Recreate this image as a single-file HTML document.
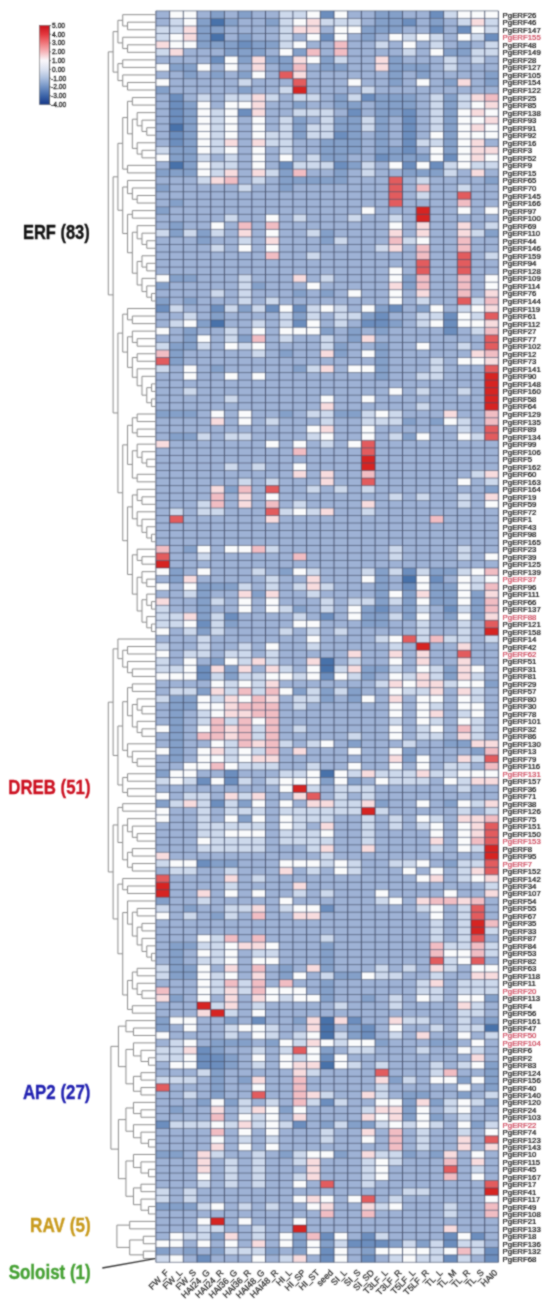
<!DOCTYPE html>
<html><head><meta charset="utf-8"><title>Heatmap</title>
<style>html,body{margin:0;padding:0;background:#fff;width:550px;height:1304px;overflow:hidden}svg{display:block}</style>
</head><body>
<svg width="550" height="1304" viewBox="0 0 550 1304"><defs><filter id="bl" x="0" y="0" width="100%" height="100%" color-interpolation-filters="sRGB"><feConvolveMatrix order="3" kernelMatrix="1 2 1 2 8 2 1 2 1" divisor="20" edgeMode="duplicate" preserveAlpha="true"/></filter></defs><rect width="100%" height="100%" fill="#fff"/><g filter="url(#bl)"><rect width="100%" height="100%" fill="#fff"/><path fill="#4872aa" d="M210.7 18.43H224.4V25.97H210.7zM210.7 33.5H224.4V41.04H210.7zM169.6 123.92H183.3V131.46H169.6zM169.6 161.6H183.3V169.13H169.6zM210.7 319.83H224.4V327.37H210.7zM402.5 575.41H416.2V582.89H402.5zM320.3 657.73H334V665.22H320.3zM320.3 665.22H334V672.7H320.3zM320.3 769.99H334V777.48H320.3zM320.3 1016.87H334V1024.31H320.3zM320.3 1024.31H334V1031.75H320.3zM484.7 1024.31H498.4V1031.75H484.7zM320.3 1031.75H334V1039.19H320.3zM320.3 1061.5H334V1068.93H320.3z"/><path fill="#6c8ebe" d="M320.3 10.9H334V18.43H320.3zM429.9 10.9H443.6V18.43H429.9zM402.5 18.43H416.2V25.97H402.5zM429.9 25.97H443.6V33.5H429.9zM457.3 25.97H471V33.5H457.3zM320.3 33.5H334V41.04H320.3zM484.7 33.5H498.4V41.04H484.7zM238.1 41.04H251.8V48.57H238.1zM210.7 56.11H224.4V63.64H210.7zM169.6 93.78H183.3V101.32H169.6zM361.4 93.78H375.1V101.32H361.4zM169.6 101.32H183.3V108.85H169.6zM169.6 108.85H183.3V116.39H169.6zM238.1 108.85H251.8V116.39H238.1zM347.7 108.85H361.4V116.39H347.7zM402.5 108.85H416.2V116.39H402.5zM169.6 116.39H183.3V123.92H169.6zM402.5 116.39H416.2V123.92H402.5zM402.5 123.92H416.2V131.46H402.5zM169.6 131.46H183.3V138.99H169.6zM334 131.46H347.7V138.99H334zM402.5 131.46H416.2V138.99H402.5zM169.6 138.99H183.3V146.53H169.6zM402.5 138.99H416.2V146.53H402.5zM402.5 146.53H416.2V154.06H402.5zM375.1 154.06H388.8V161.6H375.1zM443.6 154.06H457.3V161.6H443.6zM279.2 161.6H292.9V169.13H279.2zM334 161.6H347.7V169.13H334zM402.5 161.6H416.2V169.13H402.5zM429.9 161.6H443.6V169.13H429.9zM155.9 304.76H169.6V312.3H155.9zM210.7 304.76H224.4V312.3H210.7zM265.5 304.76H279.2V312.3H265.5zM292.9 304.76H306.6V312.3H292.9zM388.8 304.76H402.5V312.3H388.8zM375.1 312.3H388.8V319.83H375.1zM443.6 312.3H457.3V319.83H443.6zM292.9 319.83H306.6V327.37H292.9zM361.4 319.83H388.8V327.37H361.4zM443.6 319.83H457.3V327.37H443.6zM443.6 327.37H457.3V334.9H443.6zM402.5 567.92H416.2V575.41H402.5zM429.9 575.41H443.6V582.89H429.9zM402.5 582.89H416.2V590.38H402.5zM375.1 605.34H388.8V612.83H375.1zM443.6 605.34H457.3V612.83H443.6zM224.4 612.83H238.1V620.31H224.4zM320.3 612.83H334V620.31H320.3zM197 620.31H210.7V627.8H197zM197 665.22H210.7V672.7H197zM197 672.7H210.7V680.19H197zM320.3 672.7H334V680.19H320.3zM224.4 769.99H238.1V777.48H224.4zM197 777.48H210.7V784.96H197zM224.4 777.48H238.1V784.96H224.4zM210.7 799.93H224.4V807.41H210.7zM197 859.8H210.7V867.29H197zM320.3 904.71H334V912.19H320.3zM251.8 1016.87H265.5V1024.31H251.8zM347.7 1016.87H361.4V1024.31H347.7zM361.4 1024.31H375.1V1031.75H361.4zM361.4 1031.75H375.1V1039.19H361.4zM197 1046.62H210.7V1054.06H197zM197 1054.06H224.4V1061.5H197zM320.3 1054.06H334V1061.5H320.3zM197 1061.5H224.4V1068.93H197zM320.3 1098.68H334V1106.12H320.3zM155.9 1120.99H169.6V1128.43H155.9zM292.9 1120.99H306.6V1128.43H292.9zM320.3 1232.55H334V1239.99H320.3zM361.4 1232.55H375.1V1239.99H361.4zM443.6 1232.55H457.3V1239.99H443.6zM471 1232.55H484.7V1239.99H471zM347.7 1239.99H388.8V1247.43H347.7zM443.6 1239.99H457.3V1247.43H443.6zM320.3 1247.43H334V1254.86H320.3zM484.7 1247.43H498.4V1254.86H484.7zM197 1254.86H210.7V1262.3H197zM320.3 1254.86H334V1262.3H320.3zM361.4 1254.86H375.1V1262.3H361.4zM443.6 1254.86H457.3V1262.3H443.6zM484.7 1254.86H498.4V1262.3H484.7z"/><path fill="#84a0c9" d="M210.7 10.9H224.4V18.43H210.7zM238.1 10.9H251.8V18.43H238.1zM375.1 10.9H402.5V18.43H375.1zM197 18.43H210.7V25.97H197zM224.4 18.43H238.1V25.97H224.4zM265.5 18.43H279.2V25.97H265.5zM375.1 18.43H402.5V25.97H375.1zM429.9 18.43H443.6V25.97H429.9zM197 25.97H224.4V33.5H197zM361.4 25.97H402.5V33.5H361.4zM197 33.5H210.7V41.04H197zM238.1 33.5H251.8V41.04H238.1zM361.4 33.5H375.1V41.04H361.4zM197 41.04H238.1V48.57H197zM251.8 41.04H279.2V48.57H251.8zM457.3 41.04H471V48.57H457.3zM224.4 48.57H265.5V56.11H224.4zM292.9 48.57H306.6V56.11H292.9zM443.6 48.57H471V56.11H443.6zM238.1 56.11H251.8V63.64H238.1zM265.5 56.11H292.9V63.64H265.5zM320.3 56.11H334V63.64H320.3zM388.8 56.11H402.5V63.64H388.8zM169.6 63.64H197V71.18H169.6zM279.2 63.64H292.9V71.18H279.2zM320.3 63.64H347.7V71.18H320.3zM388.8 63.64H429.9V71.18H388.8zM183.3 71.18H197V78.71H183.3zM210.7 71.18H224.4V78.71H210.7zM238.1 71.18H251.8V78.71H238.1zM388.8 71.18H402.5V78.71H388.8zM416.2 71.18H429.9V78.71H416.2zM484.7 71.18H498.4V78.71H484.7zM388.8 78.71H402.5V86.25H388.8zM443.6 78.71H457.3V86.25H443.6zM484.7 78.71H498.4V86.25H484.7zM155.9 86.25H169.6V93.78H155.9zM238.1 86.25H251.8V93.78H238.1zM334 93.78H347.7V101.32H334zM375.1 93.78H416.2V101.32H375.1zM443.6 93.78H457.3V101.32H443.6zM183.3 101.32H197V108.85H183.3zM292.9 101.32H306.6V108.85H292.9zM334 101.32H361.4V108.85H334zM375.1 101.32H416.2V108.85H375.1zM443.6 101.32H457.3V108.85H443.6zM183.3 108.85H197V116.39H183.3zM375.1 108.85H402.5V116.39H375.1zM443.6 108.85H457.3V116.39H443.6zM183.3 116.39H197V123.92H183.3zM292.9 116.39H306.6V123.92H292.9zM334 116.39H361.4V123.92H334zM375.1 116.39H388.8V123.92H375.1zM443.6 116.39H457.3V123.92H443.6zM183.3 123.92H197V131.46H183.3zM292.9 123.92H306.6V131.46H292.9zM334 123.92H361.4V131.46H334zM375.1 123.92H388.8V131.46H375.1zM443.6 123.92H457.3V131.46H443.6zM183.3 131.46H197V138.99H183.3zM292.9 131.46H306.6V138.99H292.9zM347.7 131.46H361.4V138.99H347.7zM375.1 131.46H388.8V138.99H375.1zM443.6 131.46H457.3V138.99H443.6zM183.3 138.99H197V146.53H183.3zM320.3 138.99H361.4V146.53H320.3zM375.1 138.99H388.8V146.53H375.1zM443.6 138.99H457.3V146.53H443.6zM169.6 146.53H197V154.06H169.6zM320.3 146.53H361.4V154.06H320.3zM375.1 146.53H402.5V154.06H375.1zM443.6 146.53H457.3V154.06H443.6zM169.6 154.06H197V161.6H169.6zM320.3 154.06H347.7V161.6H320.3zM388.8 154.06H429.9V161.6H388.8zM183.3 161.6H197V169.13H183.3zM347.7 161.6H361.4V169.13H347.7zM155.9 169.13H197V176.67H155.9zM279.2 169.13H292.9V176.67H279.2zM334 169.13H347.7V176.67H334zM402.5 169.13H443.6V176.67H402.5zM279.2 176.67H347.7V184.2H279.2zM484.7 176.67H498.4V184.2H484.7zM155.9 184.2H169.6V191.74H155.9zM279.2 184.2H292.9V191.74H279.2zM169.6 199.27H183.3V206.81H169.6zM155.9 206.81H169.6V214.34H155.9zM169.6 221.88H183.3V229.41H169.6zM169.6 229.41H183.3V236.95H169.6zM197 229.41H210.7V236.95H197zM320.3 229.41H334V236.95H320.3zM484.7 229.41H498.4V236.95H484.7zM197 236.95H210.7V244.48H197zM320.3 236.95H334V244.48H320.3zM169.6 274.62H197V282.16H169.6zM402.5 274.62H416.2V282.16H402.5zM155.9 282.16H169.6V289.69H155.9zM251.8 282.16H265.5V289.69H251.8zM402.5 282.16H416.2V289.69H402.5zM292.9 289.69H306.6V297.23H292.9zM320.3 289.69H334V297.23H320.3zM155.9 297.23H169.6V304.76H155.9zM183.3 297.23H197V304.76H183.3zM238.1 304.76H251.8V312.3H238.1zM375.1 304.76H388.8V312.3H375.1zM416.2 304.76H429.9V312.3H416.2zM210.7 312.3H224.4V319.83H210.7zM292.9 312.3H306.6V319.83H292.9zM361.4 312.3H375.1V319.83H361.4zM197 319.83H210.7V327.37H197zM388.8 319.83H402.5V327.37H388.8zM183.3 327.37H197V334.9H183.3zM320.3 327.37H334V334.9H320.3zM347.7 327.37H361.4V334.9H347.7zM375.1 327.37H388.8V334.9H375.1zM183.3 334.9H197V342.44H183.3zM238.1 334.9H251.8V342.44H238.1zM347.7 334.9H361.4V342.44H347.7zM169.6 342.44H197V349.97H169.6zM334 342.44H347.7V349.97H334zM375.1 342.44H388.8V349.97H375.1zM169.6 349.97H183.3V357.51H169.6zM279.2 349.97H292.9V357.51H279.2zM334 349.97H347.7V357.51H334zM375.1 349.97H388.8V357.51H375.1zM169.6 357.51H183.3V365.04H169.6zM375.1 357.51H388.8V365.04H375.1zM210.7 365.04H224.4V372.58H210.7zM292.9 365.04H306.6V372.58H292.9zM375.1 365.04H388.8V372.58H375.1zM375.1 372.58H388.8V380.11H375.1zM155.9 410.25H197V417.79H155.9zM279.2 410.25H292.9V417.79H279.2zM334 410.25H361.4V417.79H334zM402.5 417.79H416.2V425.32H402.5zM429.9 417.79H443.6V425.32H429.9zM169.6 432.86H197V440.39H169.6zM402.5 432.86H416.2V440.39H402.5zM224.4 485.6H238.1V493.08H224.4zM484.7 485.6H498.4V493.08H484.7zM183.3 545.47H197V552.96H183.3zM169.6 567.92H183.3V575.41H169.6zM279.2 567.92H292.9V575.41H279.2zM375.1 567.92H388.8V575.41H375.1zM429.9 567.92H457.3V575.41H429.9zM169.6 575.41H183.3V582.89H169.6zM375.1 575.41H388.8V582.89H375.1zM197 582.89H238.1V590.38H197zM375.1 582.89H388.8V590.38H375.1zM429.9 582.89H457.3V590.38H429.9zM197 590.38H210.7V597.86H197zM251.8 590.38H265.5V597.86H251.8zM375.1 590.38H388.8V597.86H375.1zM402.5 590.38H416.2V597.86H402.5zM429.9 590.38H457.3V597.86H429.9zM471 590.38H484.7V597.86H471zM197 597.86H210.7V605.34H197zM375.1 597.86H388.8V605.34H375.1zM402.5 597.86H416.2V605.34H402.5zM429.9 597.86H457.3V605.34H429.9zM471 597.86H484.7V605.34H471zM197 605.34H210.7V612.83H197zM292.9 605.34H306.6V612.83H292.9zM361.4 605.34H375.1V612.83H361.4zM402.5 605.34H416.2V612.83H402.5zM471 605.34H484.7V612.83H471zM197 612.83H210.7V620.31H197zM361.4 612.83H388.8V620.31H361.4zM402.5 612.83H416.2V620.31H402.5zM443.6 612.83H457.3V620.31H443.6zM471 612.83H484.7V620.31H471zM224.4 620.31H238.1V627.8H224.4zM361.4 620.31H388.8V627.8H361.4zM197 627.8H210.7V635.28H197zM210.7 657.73H224.4V665.22H210.7zM224.4 665.22H238.1V672.7H224.4zM361.4 665.22H388.8V672.7H361.4zM443.6 665.22H457.3V672.7H443.6zM224.4 672.7H238.1V680.19H224.4zM361.4 672.7H375.1V680.19H361.4zM443.6 672.7H457.3V680.19H443.6zM484.7 680.19H498.4V687.67H484.7zM197 687.67H210.7V695.15H197zM292.9 687.67H306.6V695.15H292.9zM320.3 687.67H334V695.15H320.3zM347.7 687.67H361.4V695.15H347.7zM169.6 695.15H197V702.64H169.6zM320.3 695.15H334V702.64H320.3zM347.7 695.15H361.4V702.64H347.7zM169.6 702.64H197V710.12H169.6zM169.6 710.12H183.3V717.61H169.6zM169.6 717.61H183.3V725.09H169.6zM169.6 725.09H183.3V732.57H169.6zM169.6 732.57H183.3V740.06H169.6zM169.6 740.06H183.3V747.54H169.6zM347.7 740.06H361.4V747.54H347.7zM443.6 740.06H471V747.54H443.6zM169.6 747.54H183.3V755.03H169.6zM402.5 747.54H416.2V755.03H402.5zM471 747.54H484.7V755.03H471zM169.6 755.03H183.3V762.51H169.6zM402.5 755.03H416.2V762.51H402.5zM155.9 769.99H169.6V777.48H155.9zM320.3 777.48H334V784.96H320.3zM347.7 777.48H361.4V784.96H347.7zM155.9 799.93H169.6V807.41H155.9zM238.1 799.93H251.8V807.41H238.1zM375.1 799.93H388.8V807.41H375.1zM443.6 799.93H457.3V807.41H443.6zM238.1 814.9H251.8V822.38H238.1zM210.7 859.8H238.1V867.29H210.7zM443.6 859.8H457.3V867.29H443.6zM155.9 897.22H169.6V904.71H155.9zM183.3 904.71H197V912.19H183.3zM210.7 912.19H224.4V919.68H210.7zM169.6 942.13H197V949.61H169.6zM320.3 942.13H334V949.61H320.3zM169.6 949.61H183.3V957.1H169.6zM320.3 949.61H334V957.1H320.3zM169.6 957.1H183.3V964.58H169.6zM320.3 957.1H334V964.58H320.3zM169.6 964.58H197V972.06H169.6zM279.2 964.58H292.9V972.06H279.2zM320.3 964.58H334V972.06H320.3zM169.6 972.06H197V979.55H169.6zM279.2 972.06H292.9V979.55H279.2zM334 972.06H361.4V979.55H334zM320.3 979.55H334V987.03H320.3zM320.3 987.03H334V994.52H320.3zM169.6 994.52H183.3V1002H169.6zM320.3 994.52H334V1002H320.3zM361.4 994.52H375.1V1002H361.4zM484.7 994.52H498.4V1002H484.7zM155.9 1016.87H169.6V1024.31H155.9zM224.4 1016.87H238.1V1024.31H224.4zM292.9 1016.87H306.6V1024.31H292.9zM484.7 1016.87H498.4V1024.31H484.7zM155.9 1024.31H169.6V1031.75H155.9zM347.7 1024.31H361.4V1031.75H347.7zM347.7 1031.75H361.4V1039.19H347.7zM210.7 1039.19H251.8V1046.62H210.7zM265.5 1039.19H279.2V1046.62H265.5zM375.1 1039.19H388.8V1046.62H375.1zM429.9 1039.19H457.3V1046.62H429.9zM210.7 1046.62H224.4V1054.06H210.7zM320.3 1046.62H334V1054.06H320.3zM224.4 1054.06H238.1V1061.5H224.4zM224.4 1061.5H238.1V1068.93H224.4zM484.7 1061.5H498.4V1068.93H484.7zM210.7 1068.93H224.4V1076.37H210.7zM484.7 1068.93H498.4V1076.37H484.7zM210.7 1076.37H224.4V1083.81H210.7zM238.1 1076.37H251.8V1083.81H238.1zM388.8 1076.37H402.5V1083.81H388.8zM457.3 1076.37H471V1083.81H457.3zM484.7 1076.37H498.4V1083.81H484.7zM210.7 1083.81H224.4V1091.25H210.7zM484.7 1083.81H498.4V1091.25H484.7zM210.7 1091.25H224.4V1098.68H210.7zM402.5 1091.25H429.9V1098.68H402.5zM457.3 1091.25H471V1098.68H457.3zM197 1098.68H210.7V1106.12H197zM224.4 1098.68H238.1V1106.12H224.4zM402.5 1098.68H416.2V1106.12H402.5zM429.9 1098.68H443.6V1106.12H429.9zM484.7 1098.68H498.4V1106.12H484.7zM169.6 1106.12H183.3V1113.56H169.6zM279.2 1106.12H292.9V1113.56H279.2zM402.5 1106.12H416.2V1113.56H402.5zM402.5 1113.56H416.2V1120.99H402.5zM429.9 1113.56H443.6V1120.99H429.9zM320.3 1120.99H334V1128.43H320.3zM347.7 1120.99H375.1V1128.43H347.7zM471 1120.99H484.7V1128.43H471zM155.9 1150.74H183.3V1158.18H155.9zM279.2 1150.74H292.9V1158.18H279.2zM334 1150.74H347.7V1158.18H334zM402.5 1150.74H416.2V1158.18H402.5zM429.9 1150.74H443.6V1158.18H429.9zM155.9 1202.8H197V1210.24H155.9zM210.7 1232.55H224.4V1239.99H210.7zM292.9 1232.55H306.6V1239.99H292.9zM292.9 1239.99H306.6V1247.43H292.9zM320.3 1239.99H334V1247.43H320.3zM388.8 1239.99H402.5V1247.43H388.8zM416.2 1239.99H429.9V1247.43H416.2zM155.9 1247.43H169.6V1254.86H155.9zM183.3 1247.43H197V1254.86H183.3zM210.7 1247.43H224.4V1254.86H210.7zM265.5 1247.43H279.2V1254.86H265.5zM292.9 1247.43H306.6V1254.86H292.9zM361.4 1247.43H375.1V1254.86H361.4z"/><path fill="#9eb2d5" d="M155.9 10.9H169.6V18.43H155.9zM197 10.9H210.7V18.43H197zM224.4 10.9H238.1V18.43H224.4zM251.8 10.9H279.2V18.43H251.8zM347.7 10.9H375.1V18.43H347.7zM402.5 10.9H429.9V18.43H402.5zM155.9 18.43H169.6V25.97H155.9zM238.1 18.43H265.5V25.97H238.1zM361.4 18.43H375.1V25.97H361.4zM416.2 18.43H429.9V25.97H416.2zM443.6 18.43H457.3V25.97H443.6zM224.4 25.97H279.2V33.5H224.4zM320.3 25.97H334V33.5H320.3zM402.5 25.97H429.9V33.5H402.5zM443.6 25.97H457.3V33.5H443.6zM224.4 33.5H238.1V41.04H224.4zM251.8 33.5H279.2V41.04H251.8zM292.9 33.5H306.6V41.04H292.9zM347.7 33.5H361.4V41.04H347.7zM375.1 33.5H388.8V41.04H375.1zM443.6 33.5H457.3V41.04H443.6zM306.6 41.04H334V48.57H306.6zM347.7 41.04H375.1V48.57H347.7zM388.8 41.04H402.5V48.57H388.8zM416.2 41.04H429.9V48.57H416.2zM443.6 41.04H457.3V48.57H443.6zM471 41.04H484.7V48.57H471zM183.3 48.57H224.4V56.11H183.3zM265.5 48.57H279.2V56.11H265.5zM320.3 48.57H334V56.11H320.3zM347.7 48.57H402.5V56.11H347.7zM416.2 48.57H429.9V56.11H416.2zM155.9 56.11H210.7V63.64H155.9zM347.7 56.11H375.1V63.64H347.7zM402.5 56.11H443.6V63.64H402.5zM457.3 56.11H471V63.64H457.3zM484.7 56.11H498.4V63.64H484.7zM210.7 63.64H224.4V71.18H210.7zM238.1 63.64H251.8V71.18H238.1zM265.5 63.64H279.2V71.18H265.5zM306.6 63.64H320.3V71.18H306.6zM347.7 63.64H375.1V71.18H347.7zM429.9 63.64H443.6V71.18H429.9zM457.3 63.64H498.4V71.18H457.3zM155.9 71.18H183.3V78.71H155.9zM197 71.18H210.7V78.71H197zM224.4 71.18H238.1V78.71H224.4zM265.5 71.18H279.2V78.71H265.5zM306.6 71.18H388.8V78.71H306.6zM402.5 71.18H416.2V78.71H402.5zM429.9 71.18H484.7V78.71H429.9zM169.6 78.71H238.1V86.25H169.6zM251.8 78.71H292.9V86.25H251.8zM306.6 78.71H347.7V86.25H306.6zM361.4 78.71H388.8V86.25H361.4zM402.5 78.71H416.2V86.25H402.5zM429.9 78.71H443.6V86.25H429.9zM471 78.71H484.7V86.25H471zM169.6 86.25H238.1V93.78H169.6zM251.8 86.25H279.2V93.78H251.8zM306.6 86.25H361.4V93.78H306.6zM375.1 86.25H498.4V93.78H375.1zM155.9 93.78H169.6V101.32H155.9zM183.3 93.78H197V101.32H183.3zM210.7 93.78H224.4V101.32H210.7zM279.2 93.78H292.9V101.32H279.2zM320.3 93.78H334V101.32H320.3zM416.2 93.78H429.9V101.32H416.2zM155.9 101.32H169.6V108.85H155.9zM210.7 101.32H224.4V108.85H210.7zM265.5 101.32H292.9V108.85H265.5zM306.6 101.32H334V108.85H306.6zM361.4 101.32H375.1V108.85H361.4zM416.2 101.32H429.9V108.85H416.2zM155.9 108.85H169.6V116.39H155.9zM265.5 108.85H292.9V116.39H265.5zM334 108.85H347.7V116.39H334zM361.4 108.85H375.1V116.39H361.4zM416.2 108.85H429.9V116.39H416.2zM155.9 116.39H169.6V123.92H155.9zM238.1 116.39H251.8V123.92H238.1zM265.5 116.39H279.2V123.92H265.5zM306.6 116.39H320.3V123.92H306.6zM388.8 116.39H402.5V123.92H388.8zM416.2 116.39H429.9V123.92H416.2zM155.9 123.92H169.6V131.46H155.9zM238.1 123.92H251.8V131.46H238.1zM265.5 123.92H279.2V131.46H265.5zM388.8 123.92H402.5V131.46H388.8zM416.2 123.92H429.9V131.46H416.2zM155.9 131.46H169.6V138.99H155.9zM238.1 131.46H251.8V138.99H238.1zM361.4 131.46H375.1V138.99H361.4zM388.8 131.46H402.5V138.99H388.8zM416.2 131.46H429.9V138.99H416.2zM155.9 138.99H169.6V146.53H155.9zM238.1 138.99H251.8V146.53H238.1zM292.9 138.99H320.3V146.53H292.9zM361.4 138.99H375.1V146.53H361.4zM388.8 138.99H402.5V146.53H388.8zM484.7 138.99H498.4V146.53H484.7zM238.1 146.53H251.8V154.06H238.1zM265.5 146.53H279.2V154.06H265.5zM292.9 146.53H320.3V154.06H292.9zM361.4 146.53H375.1V154.06H361.4zM416.2 146.53H429.9V154.06H416.2zM210.7 154.06H224.4V161.6H210.7zM238.1 154.06H251.8V161.6H238.1zM265.5 154.06H279.2V161.6H265.5zM292.9 154.06H306.6V161.6H292.9zM347.7 154.06H375.1V161.6H347.7zM155.9 161.6H169.6V169.13H155.9zM238.1 161.6H251.8V169.13H238.1zM265.5 161.6H279.2V169.13H265.5zM375.1 161.6H388.8V169.13H375.1zM238.1 169.13H251.8V176.67H238.1zM306.6 169.13H334V176.67H306.6zM347.7 169.13H361.4V176.67H347.7zM375.1 169.13H402.5V176.67H375.1zM457.3 169.13H471V176.67H457.3zM484.7 169.13H498.4V176.67H484.7zM155.9 176.67H197V184.2H155.9zM238.1 176.67H251.8V184.2H238.1zM265.5 176.67H279.2V184.2H265.5zM347.7 176.67H388.8V184.2H347.7zM402.5 176.67H416.2V184.2H402.5zM429.9 176.67H484.7V184.2H429.9zM169.6 184.2H238.1V191.74H169.6zM251.8 184.2H279.2V191.74H251.8zM292.9 184.2H388.8V191.74H292.9zM402.5 184.2H416.2V191.74H402.5zM429.9 184.2H457.3V191.74H429.9zM471 184.2H498.4V191.74H471zM155.9 191.74H388.8V199.27H155.9zM402.5 191.74H416.2V199.27H402.5zM429.9 191.74H457.3V199.27H429.9zM471 191.74H498.4V199.27H471zM155.9 199.27H169.6V206.81H155.9zM183.3 199.27H388.8V206.81H183.3zM402.5 199.27H457.3V206.81H402.5zM471 199.27H498.4V206.81H471zM169.6 206.81H361.4V214.34H169.6zM375.1 206.81H416.2V214.34H375.1zM429.9 206.81H457.3V214.34H429.9zM471 206.81H484.7V214.34H471zM155.9 214.34H224.4V221.88H155.9zM238.1 214.34H265.5V221.88H238.1zM279.2 214.34H292.9V221.88H279.2zM306.6 214.34H347.7V221.88H306.6zM361.4 214.34H388.8V221.88H361.4zM402.5 214.34H416.2V221.88H402.5zM429.9 214.34H498.4V221.88H429.9zM155.9 221.88H169.6V229.41H155.9zM183.3 221.88H210.7V229.41H183.3zM224.4 221.88H238.1V229.41H224.4zM251.8 221.88H265.5V229.41H251.8zM279.2 221.88H388.8V229.41H279.2zM402.5 221.88H416.2V229.41H402.5zM429.9 221.88H457.3V229.41H429.9zM471 221.88H484.7V229.41H471zM224.4 229.41H238.1V236.95H224.4zM251.8 229.41H265.5V236.95H251.8zM279.2 229.41H306.6V236.95H279.2zM334 229.41H388.8V236.95H334zM402.5 229.41H416.2V236.95H402.5zM429.9 229.41H457.3V236.95H429.9zM155.9 236.95H197V244.48H155.9zM210.7 236.95H238.1V244.48H210.7zM251.8 236.95H265.5V244.48H251.8zM279.2 236.95H320.3V244.48H279.2zM347.7 236.95H388.8V244.48H347.7zM429.9 236.95H457.3V244.48H429.9zM471 236.95H498.4V244.48H471zM155.9 244.48H210.7V252.02H155.9zM224.4 244.48H238.1V252.02H224.4zM251.8 244.48H265.5V252.02H251.8zM279.2 244.48H375.1V252.02H279.2zM402.5 244.48H416.2V252.02H402.5zM429.9 244.48H457.3V252.02H429.9zM471 244.48H498.4V252.02H471zM155.9 252.02H265.5V259.55H155.9zM279.2 252.02H306.6V259.55H279.2zM320.3 252.02H416.2V259.55H320.3zM429.9 252.02H457.3V259.55H429.9zM471 252.02H484.7V259.55H471zM155.9 259.55H416.2V267.09H155.9zM429.9 259.55H457.3V267.09H429.9zM471 259.55H498.4V267.09H471zM155.9 267.09H388.8V274.62H155.9zM402.5 267.09H416.2V274.62H402.5zM429.9 267.09H457.3V274.62H429.9zM471 267.09H498.4V274.62H471zM197 274.62H238.1V282.16H197zM251.8 274.62H292.9V282.16H251.8zM306.6 274.62H320.3V282.16H306.6zM334 274.62H388.8V282.16H334zM429.9 274.62H457.3V282.16H429.9zM471 274.62H484.7V282.16H471zM169.6 282.16H238.1V289.69H169.6zM265.5 282.16H306.6V289.69H265.5zM320.3 282.16H388.8V289.69H320.3zM429.9 282.16H457.3V289.69H429.9zM471 282.16H484.7V289.69H471zM155.9 289.69H210.7V297.23H155.9zM224.4 289.69H238.1V297.23H224.4zM251.8 289.69H292.9V297.23H251.8zM306.6 289.69H320.3V297.23H306.6zM334 289.69H347.7V297.23H334zM361.4 289.69H388.8V297.23H361.4zM402.5 289.69H416.2V297.23H402.5zM429.9 289.69H457.3V297.23H429.9zM471 289.69H484.7V297.23H471zM169.6 297.23H183.3V304.76H169.6zM197 297.23H238.1V304.76H197zM251.8 297.23H265.5V304.76H251.8zM279.2 297.23H388.8V304.76H279.2zM402.5 297.23H416.2V304.76H402.5zM429.9 297.23H457.3V304.76H429.9zM183.3 304.76H210.7V312.3H183.3zM347.7 304.76H361.4V312.3H347.7zM402.5 304.76H416.2V312.3H402.5zM443.6 304.76H457.3V312.3H443.6zM155.9 312.3H183.3V319.83H155.9zM197 312.3H210.7V319.83H197zM224.4 312.3H279.2V319.83H224.4zM320.3 312.3H334V319.83H320.3zM388.8 312.3H416.2V319.83H388.8zM155.9 319.83H169.6V327.37H155.9zM224.4 319.83H251.8V327.37H224.4zM265.5 319.83H279.2V327.37H265.5zM320.3 319.83H334V327.37H320.3zM347.7 319.83H361.4V327.37H347.7zM402.5 319.83H416.2V327.37H402.5zM169.6 327.37H183.3V334.9H169.6zM197 327.37H224.4V334.9H197zM238.1 327.37H251.8V334.9H238.1zM265.5 327.37H279.2V334.9H265.5zM334 327.37H347.7V334.9H334zM361.4 327.37H375.1V334.9H361.4zM388.8 327.37H443.6V334.9H388.8zM457.3 327.37H471V334.9H457.3zM155.9 334.9H183.3V342.44H155.9zM210.7 334.9H224.4V342.44H210.7zM265.5 334.9H279.2V342.44H265.5zM292.9 334.9H320.3V342.44H292.9zM334 334.9H347.7V342.44H334zM375.1 334.9H484.7V342.44H375.1zM210.7 342.44H224.4V349.97H210.7zM265.5 342.44H320.3V349.97H265.5zM347.7 342.44H375.1V349.97H347.7zM388.8 342.44H416.2V349.97H388.8zM429.9 342.44H457.3V349.97H429.9zM471 342.44H484.7V349.97H471zM183.3 349.97H251.8V357.51H183.3zM265.5 349.97H279.2V357.51H265.5zM292.9 349.97H320.3V357.51H292.9zM347.7 349.97H361.4V357.51H347.7zM388.8 349.97H471V357.51H388.8zM183.3 357.51H375.1V365.04H183.3zM388.8 357.51H429.9V365.04H388.8zM443.6 357.51H457.3V365.04H443.6zM169.6 365.04H183.3V372.58H169.6zM197 365.04H210.7V372.58H197zM224.4 365.04H292.9V372.58H224.4zM334 365.04H347.7V372.58H334zM388.8 365.04H429.9V372.58H388.8zM443.6 365.04H484.7V372.58H443.6zM155.9 372.58H183.3V380.11H155.9zM197 372.58H224.4V380.11H197zM238.1 372.58H251.8V380.11H238.1zM265.5 372.58H375.1V380.11H265.5zM388.8 372.58H416.2V380.11H388.8zM443.6 372.58H484.7V380.11H443.6zM155.9 380.11H484.7V387.65H155.9zM155.9 387.65H183.3V395.18H155.9zM197 387.65H388.8V395.18H197zM402.5 387.65H416.2V395.18H402.5zM429.9 387.65H457.3V395.18H429.9zM471 387.65H484.7V395.18H471zM155.9 395.18H224.4V402.72H155.9zM238.1 395.18H320.3V402.72H238.1zM334 395.18H361.4V402.72H334zM375.1 395.18H484.7V402.72H375.1zM155.9 402.72H320.3V410.25H155.9zM334 402.72H416.2V410.25H334zM429.9 402.72H484.7V410.25H429.9zM197 410.25H210.7V417.79H197zM224.4 410.25H238.1V417.79H224.4zM251.8 410.25H279.2V417.79H251.8zM292.9 410.25H306.6V417.79H292.9zM402.5 410.25H443.6V417.79H402.5zM457.3 410.25H484.7V417.79H457.3zM155.9 417.79H210.7V425.32H155.9zM224.4 417.79H238.1V425.32H224.4zM251.8 417.79H265.5V425.32H251.8zM279.2 417.79H320.3V425.32H279.2zM334 417.79H361.4V425.32H334zM416.2 417.79H429.9V425.32H416.2zM471 417.79H484.7V425.32H471zM155.9 425.32H306.6V432.86H155.9zM334 425.32H361.4V432.86H334zM375.1 425.32H457.3V432.86H375.1zM471 425.32H484.7V432.86H471zM155.9 432.86H169.6V440.39H155.9zM210.7 432.86H224.4V440.39H210.7zM251.8 432.86H306.6V440.39H251.8zM334 432.86H361.4V440.39H334zM375.1 432.86H388.8V440.39H375.1zM429.9 432.86H457.3V440.39H429.9zM169.6 440.39H265.5V447.93H169.6zM279.2 440.39H292.9V447.93H279.2zM306.6 440.39H320.3V447.93H306.6zM334 440.39H347.7V447.93H334zM375.1 440.39H498.4V447.93H375.1zM155.9 447.93H292.9V455.46H155.9zM306.6 447.93H361.4V455.46H306.6zM375.1 447.93H498.4V455.46H375.1zM155.9 455.46H361.4V463H155.9zM375.1 455.46H498.4V463H375.1zM155.9 463H224.4V470.53H155.9zM238.1 463H251.8V470.53H238.1zM265.5 463H292.9V470.53H265.5zM306.6 463H361.4V470.53H306.6zM375.1 463H498.4V470.53H375.1zM155.9 470.53H292.9V478.07H155.9zM306.6 470.53H320.3V478.07H306.6zM334 470.53H361.4V478.07H334zM375.1 470.53H471V478.07H375.1zM155.9 478.07H238.1V485.6H155.9zM251.8 478.07H265.5V485.6H251.8zM279.2 478.07H320.3V485.6H279.2zM334 478.07H361.4V485.6H334zM375.1 478.07H457.3V485.6H375.1zM471 478.07H484.7V485.6H471zM155.9 485.6H210.7V493.08H155.9zM251.8 485.6H265.5V493.08H251.8zM279.2 485.6H306.6V493.08H279.2zM320.3 485.6H334V493.08H320.3zM347.7 485.6H361.4V493.08H347.7zM375.1 485.6H484.7V493.08H375.1zM155.9 493.08H210.7V500.57H155.9zM224.4 493.08H238.1V500.57H224.4zM251.8 493.08H265.5V500.57H251.8zM279.2 493.08H388.8V500.57H279.2zM402.5 493.08H416.2V500.57H402.5zM429.9 493.08H457.3V500.57H429.9zM471 493.08H484.7V500.57H471zM155.9 500.57H197V508.05H155.9zM224.4 500.57H238.1V508.05H224.4zM251.8 500.57H265.5V508.05H251.8zM279.2 500.57H292.9V508.05H279.2zM306.6 500.57H361.4V508.05H306.6zM375.1 500.57H457.3V508.05H375.1zM471 500.57H484.7V508.05H471zM155.9 508.05H169.6V515.54H155.9zM183.3 508.05H197V515.54H183.3zM224.4 508.05H265.5V515.54H224.4zM334 508.05H361.4V515.54H334zM375.1 508.05H498.4V515.54H375.1zM155.9 515.54H169.6V523.02H155.9zM183.3 515.54H265.5V523.02H183.3zM279.2 515.54H429.9V523.02H279.2zM443.6 515.54H498.4V523.02H443.6zM155.9 523.02H498.4V530.5H155.9zM155.9 530.5H498.4V537.99H155.9zM155.9 537.99H498.4V545.47H155.9zM169.6 545.47H183.3V552.96H169.6zM210.7 545.47H224.4V552.96H210.7zM279.2 545.47H388.8V552.96H279.2zM402.5 545.47H457.3V552.96H402.5zM471 545.47H498.4V552.96H471zM169.6 552.96H197V560.44H169.6zM210.7 552.96H292.9V560.44H210.7zM306.6 552.96H388.8V560.44H306.6zM402.5 552.96H457.3V560.44H402.5zM471 552.96H484.7V560.44H471zM169.6 560.44H498.4V567.92H169.6zM183.3 567.92H197V575.41H183.3zM210.7 567.92H251.8V575.41H210.7zM265.5 567.92H279.2V575.41H265.5zM320.3 567.92H361.4V575.41H320.3zM155.9 575.41H169.6V582.89H155.9zM197 575.41H265.5V582.89H197zM279.2 575.41H306.6V582.89H279.2zM320.3 575.41H361.4V582.89H320.3zM388.8 575.41H402.5V582.89H388.8zM443.6 575.41H457.3V582.89H443.6zM169.6 582.89H183.3V590.38H169.6zM251.8 582.89H265.5V590.38H251.8zM279.2 582.89H292.9V590.38H279.2zM334 582.89H375.1V590.38H334zM388.8 582.89H402.5V590.38H388.8zM155.9 590.38H183.3V597.86H155.9zM210.7 590.38H238.1V597.86H210.7zM279.2 590.38H306.6V597.86H279.2zM320.3 590.38H375.1V597.86H320.3zM169.6 597.86H197V605.34H169.6zM224.4 597.86H238.1V605.34H224.4zM251.8 597.86H265.5V605.34H251.8zM279.2 597.86H320.3V605.34H279.2zM334 597.86H347.7V605.34H334zM169.6 605.34H197V612.83H169.6zM210.7 605.34H238.1V612.83H210.7zM251.8 605.34H265.5V612.83H251.8zM306.6 605.34H320.3V612.83H306.6zM334 605.34H347.7V612.83H334zM388.8 605.34H402.5V612.83H388.8zM429.9 605.34H443.6V612.83H429.9zM238.1 612.83H292.9V620.31H238.1zM306.6 612.83H320.3V620.31H306.6zM334 612.83H347.7V620.31H334zM429.9 612.83H443.6V620.31H429.9zM238.1 620.31H292.9V627.8H238.1zM320.3 620.31H361.4V627.8H320.3zM388.8 620.31H416.2V627.8H388.8zM429.9 620.31H457.3V627.8H429.9zM471 620.31H484.7V627.8H471zM169.6 627.8H183.3V635.28H169.6zM224.4 627.8H279.2V635.28H224.4zM292.9 627.8H306.6V635.28H292.9zM320.3 627.8H334V635.28H320.3zM347.7 627.8H416.2V635.28H347.7zM429.9 627.8H457.3V635.28H429.9zM471 627.8H484.7V635.28H471zM155.9 635.28H197V642.77H155.9zM210.7 635.28H306.6V642.77H210.7zM320.3 635.28H375.1V642.77H320.3zM471 635.28H484.7V642.77H471zM169.6 642.77H197V650.25H169.6zM210.7 642.77H238.1V650.25H210.7zM251.8 642.77H265.5V650.25H251.8zM279.2 642.77H306.6V650.25H279.2zM320.3 642.77H388.8V650.25H320.3zM402.5 642.77H416.2V650.25H402.5zM429.9 642.77H457.3V650.25H429.9zM471 642.77H498.4V650.25H471zM169.6 650.25H183.3V657.73H169.6zM210.7 650.25H224.4V657.73H210.7zM251.8 650.25H265.5V657.73H251.8zM279.2 650.25H347.7V657.73H279.2zM361.4 650.25H388.8V657.73H361.4zM402.5 650.25H416.2V657.73H402.5zM429.9 650.25H457.3V657.73H429.9zM471 650.25H498.4V657.73H471zM169.6 657.73H183.3V665.22H169.6zM197 657.73H210.7V665.22H197zM279.2 657.73H306.6V665.22H279.2zM334 657.73H347.7V665.22H334zM361.4 657.73H388.8V665.22H361.4zM402.5 657.73H416.2V665.22H402.5zM429.9 657.73H457.3V665.22H429.9zM471 657.73H498.4V665.22H471zM251.8 665.22H265.5V672.7H251.8zM292.9 665.22H306.6V672.7H292.9zM402.5 665.22H416.2V672.7H402.5zM484.7 665.22H498.4V672.7H484.7zM375.1 672.7H388.8V680.19H375.1zM484.7 672.7H498.4V680.19H484.7zM155.9 680.19H210.7V687.67H155.9zM279.2 680.19H375.1V687.67H279.2zM155.9 687.67H169.6V695.15H155.9zM361.4 687.67H388.8V695.15H361.4zM443.6 687.67H457.3V695.15H443.6zM484.7 687.67H498.4V695.15H484.7zM279.2 695.15H292.9V702.64H279.2zM334 695.15H347.7V702.64H334zM375.1 695.15H388.8V702.64H375.1zM402.5 695.15H416.2V702.64H402.5zM443.6 695.15H457.3V702.64H443.6zM484.7 695.15H498.4V702.64H484.7zM155.9 702.64H169.6V710.12H155.9zM279.2 702.64H292.9V710.12H279.2zM306.6 702.64H388.8V710.12H306.6zM402.5 702.64H416.2V710.12H402.5zM443.6 702.64H457.3V710.12H443.6zM484.7 702.64H498.4V710.12H484.7zM155.9 710.12H169.6V717.61H155.9zM183.3 710.12H197V717.61H183.3zM279.2 710.12H388.8V717.61H279.2zM402.5 710.12H416.2V717.61H402.5zM443.6 710.12H457.3V717.61H443.6zM484.7 710.12H498.4V717.61H484.7zM155.9 717.61H169.6V725.09H155.9zM183.3 717.61H197V725.09H183.3zM279.2 717.61H388.8V725.09H279.2zM402.5 717.61H416.2V725.09H402.5zM443.6 717.61H457.3V725.09H443.6zM484.7 717.61H498.4V725.09H484.7zM183.3 725.09H197V732.57H183.3zM279.2 725.09H292.9V732.57H279.2zM306.6 725.09H388.8V732.57H306.6zM402.5 725.09H416.2V732.57H402.5zM443.6 725.09H457.3V732.57H443.6zM484.7 725.09H498.4V732.57H484.7zM155.9 732.57H169.6V740.06H155.9zM183.3 732.57H197V740.06H183.3zM279.2 732.57H347.7V740.06H279.2zM361.4 732.57H388.8V740.06H361.4zM402.5 732.57H416.2V740.06H402.5zM443.6 732.57H457.3V740.06H443.6zM484.7 732.57H498.4V740.06H484.7zM155.9 740.06H169.6V747.54H155.9zM183.3 740.06H210.7V747.54H183.3zM292.9 740.06H306.6V747.54H292.9zM334 740.06H347.7V747.54H334zM361.4 740.06H402.5V747.54H361.4zM416.2 740.06H443.6V747.54H416.2zM183.3 747.54H197V755.03H183.3zM279.2 747.54H292.9V755.03H279.2zM306.6 747.54H347.7V755.03H306.6zM361.4 747.54H388.8V755.03H361.4zM416.2 747.54H471V755.03H416.2zM155.9 755.03H169.6V762.51H155.9zM183.3 755.03H197V762.51H183.3zM279.2 755.03H388.8V762.51H279.2zM429.9 755.03H457.3V762.51H429.9zM155.9 762.51H183.3V769.99H155.9zM279.2 762.51H306.6V769.99H279.2zM320.3 762.51H347.7V769.99H320.3zM361.4 762.51H388.8V769.99H361.4zM402.5 762.51H416.2V769.99H402.5zM429.9 762.51H443.6V769.99H429.9zM471 762.51H484.7V769.99H471zM197 769.99H224.4V777.48H197zM238.1 769.99H279.2V777.48H238.1zM251.8 777.48H265.5V784.96H251.8zM361.4 777.48H375.1V784.96H361.4zM429.9 777.48H443.6V784.96H429.9zM155.9 784.96H279.2V792.45H155.9zM320.3 784.96H334V792.45H320.3zM375.1 784.96H457.3V792.45H375.1zM471 784.96H498.4V792.45H471zM169.6 792.45H183.3V799.93H169.6zM210.7 792.45H224.4V799.93H210.7zM265.5 792.45H292.9V799.93H265.5zM320.3 792.45H334V799.93H320.3zM347.7 792.45H361.4V799.93H347.7zM375.1 792.45H498.4V799.93H375.1zM265.5 799.93H279.2V807.41H265.5zM292.9 799.93H306.6V807.41H292.9zM388.8 799.93H416.2V807.41H388.8zM429.9 799.93H443.6V807.41H429.9zM169.6 807.41H197V814.9H169.6zM210.7 807.41H224.4V814.9H210.7zM265.5 807.41H279.2V814.9H265.5zM388.8 807.41H457.3V814.9H388.8zM471 807.41H484.7V814.9H471zM169.6 814.9H197V822.38H169.6zM210.7 814.9H224.4V822.38H210.7zM265.5 814.9H279.2V822.38H265.5zM334 814.9H361.4V822.38H334zM375.1 814.9H388.8V822.38H375.1zM402.5 814.9H416.2V822.38H402.5zM443.6 814.9H457.3V822.38H443.6zM155.9 822.38H197V829.87H155.9zM265.5 822.38H279.2V829.87H265.5zM306.6 822.38H320.3V829.87H306.6zM334 822.38H361.4V829.87H334zM375.1 822.38H388.8V829.87H375.1zM402.5 822.38H416.2V829.87H402.5zM443.6 822.38H457.3V829.87H443.6zM155.9 829.87H197V837.35H155.9zM265.5 829.87H279.2V837.35H265.5zM334 829.87H361.4V837.35H334zM375.1 829.87H429.9V837.35H375.1zM443.6 829.87H457.3V837.35H443.6zM155.9 837.35H197V844.83H155.9zM265.5 837.35H279.2V844.83H265.5zM334 837.35H361.4V844.83H334zM375.1 837.35H429.9V844.83H375.1zM443.6 837.35H457.3V844.83H443.6zM155.9 844.83H197V852.32H155.9zM265.5 844.83H306.6V852.32H265.5zM334 844.83H361.4V852.32H334zM375.1 844.83H429.9V852.32H375.1zM443.6 844.83H457.3V852.32H443.6zM169.6 852.32H320.3V859.8H169.6zM334 852.32H484.7V859.8H334zM238.1 859.8H279.2V867.29H238.1zM361.4 859.8H388.8V867.29H361.4zM429.9 859.8H443.6V867.29H429.9zM155.9 867.29H169.6V874.77H155.9zM197 867.29H224.4V874.77H197zM238.1 867.29H279.2V874.77H238.1zM292.9 867.29H306.6V874.77H292.9zM320.3 867.29H334V874.77H320.3zM361.4 867.29H402.5V874.77H361.4zM416.2 867.29H429.9V874.77H416.2zM443.6 867.29H457.3V874.77H443.6zM169.6 874.77H224.4V882.26H169.6zM238.1 874.77H251.8V882.26H238.1zM265.5 874.77H416.2V882.26H265.5zM443.6 874.77H457.3V882.26H443.6zM169.6 882.26H224.4V889.74H169.6zM238.1 882.26H292.9V889.74H238.1zM306.6 882.26H484.7V889.74H306.6zM169.6 889.74H197V897.22H169.6zM210.7 889.74H224.4V897.22H210.7zM238.1 889.74H251.8V897.22H238.1zM265.5 889.74H292.9V897.22H265.5zM306.6 889.74H320.3V897.22H306.6zM334 889.74H375.1V897.22H334zM388.8 889.74H443.6V897.22H388.8zM457.3 889.74H484.7V897.22H457.3zM169.6 897.22H197V904.71H169.6zM210.7 897.22H279.2V904.71H210.7zM292.9 897.22H375.1V904.71H292.9zM402.5 897.22H416.2V904.71H402.5zM484.7 897.22H498.4V904.71H484.7zM169.6 904.71H183.3V912.19H169.6zM197 904.71H224.4V912.19H197zM265.5 904.71H279.2V912.19H265.5zM334 904.71H416.2V912.19H334zM443.6 904.71H457.3V912.19H443.6zM484.7 904.71H498.4V912.19H484.7zM169.6 912.19H183.3V919.68H169.6zM197 912.19H210.7V919.68H197zM238.1 912.19H251.8V919.68H238.1zM265.5 912.19H292.9V919.68H265.5zM320.3 912.19H429.9V919.68H320.3zM443.6 912.19H457.3V919.68H443.6zM484.7 912.19H498.4V919.68H484.7zM155.9 919.68H429.9V927.16H155.9zM443.6 919.68H457.3V927.16H443.6zM155.9 927.16H429.9V934.64H155.9zM443.6 927.16H457.3V934.64H443.6zM155.9 934.64H197V942.13H155.9zM238.1 934.64H251.8V942.13H238.1zM265.5 934.64H320.3V942.13H265.5zM334 934.64H429.9V942.13H334zM443.6 934.64H457.3V942.13H443.6zM484.7 934.64H498.4V942.13H484.7zM155.9 942.13H169.6V949.61H155.9zM279.2 942.13H320.3V949.61H279.2zM334 942.13H429.9V949.61H334zM155.9 949.61H169.6V957.1H155.9zM183.3 949.61H197V957.1H183.3zM238.1 949.61H251.8V957.1H238.1zM279.2 949.61H320.3V957.1H279.2zM334 949.61H429.9V957.1H334zM155.9 957.1H169.6V964.58H155.9zM183.3 957.1H197V964.58H183.3zM238.1 957.1H251.8V964.58H238.1zM279.2 957.1H320.3V964.58H279.2zM334 957.1H429.9V964.58H334zM484.7 957.1H498.4V964.58H484.7zM210.7 964.58H224.4V972.06H210.7zM238.1 964.58H251.8V972.06H238.1zM265.5 964.58H279.2V972.06H265.5zM292.9 964.58H306.6V972.06H292.9zM334 964.58H375.1V972.06H334zM388.8 964.58H402.5V972.06H388.8zM416.2 964.58H429.9V972.06H416.2zM457.3 964.58H471V972.06H457.3zM238.1 972.06H251.8V979.55H238.1zM265.5 972.06H279.2V979.55H265.5zM306.6 972.06H320.3V979.55H306.6zM402.5 972.06H429.9V979.55H402.5zM443.6 972.06H471V979.55H443.6zM155.9 979.55H197V987.03H155.9zM265.5 979.55H279.2V987.03H265.5zM292.9 979.55H320.3V987.03H292.9zM334 979.55H416.2V987.03H334zM443.6 979.55H457.3V987.03H443.6zM169.6 987.03H197V994.52H169.6zM306.6 987.03H320.3V994.52H306.6zM334 987.03H416.2V994.52H334zM443.6 987.03H457.3V994.52H443.6zM183.3 994.52H197V1002H183.3zM210.7 994.52H224.4V1002H210.7zM238.1 994.52H251.8V1002H238.1zM334 994.52H361.4V1002H334zM375.1 994.52H388.8V1002H375.1zM402.5 994.52H416.2V1002H402.5zM443.6 994.52H457.3V1002H443.6zM155.9 1002H197V1009.44H155.9zM238.1 1002H251.8V1009.44H238.1zM265.5 1002H334V1009.44H265.5zM347.7 1002H388.8V1009.44H347.7zM402.5 1002H457.3V1009.44H402.5zM484.7 1002H498.4V1009.44H484.7zM155.9 1009.44H197V1016.87H155.9zM238.1 1009.44H251.8V1016.87H238.1zM265.5 1009.44H457.3V1016.87H265.5zM484.7 1009.44H498.4V1016.87H484.7zM197 1016.87H224.4V1024.31H197zM238.1 1016.87H251.8V1024.31H238.1zM265.5 1016.87H292.9V1024.31H265.5zM361.4 1016.87H388.8V1024.31H361.4zM429.9 1016.87H457.3V1024.31H429.9zM471 1016.87H484.7V1024.31H471zM169.6 1024.31H183.3V1031.75H169.6zM197 1024.31H224.4V1031.75H197zM279.2 1024.31H306.6V1031.75H279.2zM334 1024.31H347.7V1031.75H334zM375.1 1024.31H388.8V1031.75H375.1zM402.5 1024.31H429.9V1031.75H402.5zM443.6 1024.31H457.3V1031.75H443.6zM169.6 1031.75H224.4V1039.19H169.6zM238.1 1031.75H251.8V1039.19H238.1zM279.2 1031.75H292.9V1039.19H279.2zM375.1 1031.75H388.8V1039.19H375.1zM402.5 1031.75H416.2V1039.19H402.5zM429.9 1031.75H457.3V1039.19H429.9zM471 1031.75H484.7V1039.19H471zM155.9 1039.19H169.6V1046.62H155.9zM197 1039.19H210.7V1046.62H197zM251.8 1039.19H265.5V1046.62H251.8zM388.8 1039.19H429.9V1046.62H388.8zM457.3 1039.19H471V1046.62H457.3zM484.7 1039.19H498.4V1046.62H484.7zM224.4 1046.62H251.8V1054.06H224.4zM265.5 1046.62H279.2V1054.06H265.5zM334 1046.62H347.7V1054.06H334zM375.1 1046.62H416.2V1054.06H375.1zM429.9 1046.62H457.3V1054.06H429.9zM484.7 1046.62H498.4V1054.06H484.7zM238.1 1054.06H251.8V1061.5H238.1zM265.5 1054.06H279.2V1061.5H265.5zM347.7 1054.06H471V1061.5H347.7zM484.7 1054.06H498.4V1061.5H484.7zM155.9 1061.5H169.6V1068.93H155.9zM238.1 1061.5H251.8V1068.93H238.1zM265.5 1061.5H279.2V1068.93H265.5zM361.4 1061.5H375.1V1068.93H361.4zM388.8 1061.5H429.9V1068.93H388.8zM443.6 1061.5H457.3V1068.93H443.6zM155.9 1068.93H197V1076.37H155.9zM224.4 1068.93H292.9V1076.37H224.4zM320.3 1068.93H375.1V1076.37H320.3zM388.8 1068.93H429.9V1076.37H388.8zM457.3 1068.93H484.7V1076.37H457.3zM197 1076.37H210.7V1083.81H197zM224.4 1076.37H238.1V1083.81H224.4zM265.5 1076.37H292.9V1083.81H265.5zM306.6 1076.37H375.1V1083.81H306.6zM416.2 1076.37H429.9V1083.81H416.2zM169.6 1083.81H210.7V1091.25H169.6zM224.4 1083.81H251.8V1091.25H224.4zM265.5 1083.81H292.9V1091.25H265.5zM306.6 1083.81H375.1V1091.25H306.6zM388.8 1083.81H457.3V1091.25H388.8zM471 1083.81H484.7V1091.25H471zM155.9 1091.25H183.3V1098.68H155.9zM197 1091.25H210.7V1098.68H197zM224.4 1091.25H251.8V1098.68H224.4zM265.5 1091.25H292.9V1098.68H265.5zM334 1091.25H361.4V1098.68H334zM388.8 1091.25H402.5V1098.68H388.8zM429.9 1091.25H457.3V1098.68H429.9zM471 1091.25H484.7V1098.68H471zM155.9 1098.68H197V1106.12H155.9zM251.8 1098.68H265.5V1106.12H251.8zM279.2 1098.68H292.9V1106.12H279.2zM347.7 1098.68H375.1V1106.12H347.7zM155.9 1106.12H169.6V1113.56H155.9zM183.3 1106.12H210.7V1113.56H183.3zM224.4 1106.12H238.1V1113.56H224.4zM306.6 1106.12H361.4V1113.56H306.6zM429.9 1106.12H443.6V1113.56H429.9zM471 1106.12H498.4V1113.56H471zM155.9 1113.56H210.7V1120.99H155.9zM224.4 1113.56H238.1V1120.99H224.4zM279.2 1113.56H292.9V1120.99H279.2zM306.6 1113.56H361.4V1120.99H306.6zM443.6 1113.56H457.3V1120.99H443.6zM471 1113.56H498.4V1120.99H471zM306.6 1120.99H320.3V1128.43H306.6zM443.6 1120.99H457.3V1128.43H443.6zM155.9 1128.43H210.7V1135.87H155.9zM224.4 1128.43H238.1V1135.87H224.4zM251.8 1128.43H265.5V1135.87H251.8zM279.2 1128.43H320.3V1135.87H279.2zM334 1128.43H361.4V1135.87H334zM375.1 1128.43H388.8V1135.87H375.1zM402.5 1128.43H416.2V1135.87H402.5zM429.9 1128.43H457.3V1135.87H429.9zM471 1128.43H484.7V1135.87H471zM155.9 1135.87H210.7V1143.31H155.9zM224.4 1135.87H238.1V1143.31H224.4zM251.8 1135.87H265.5V1143.31H251.8zM279.2 1135.87H320.3V1143.31H279.2zM334 1135.87H361.4V1143.31H334zM375.1 1135.87H388.8V1143.31H375.1zM402.5 1135.87H416.2V1143.31H402.5zM429.9 1135.87H457.3V1143.31H429.9zM471 1135.87H484.7V1143.31H471zM155.9 1143.31H210.7V1150.74H155.9zM224.4 1143.31H238.1V1150.74H224.4zM251.8 1143.31H265.5V1150.74H251.8zM279.2 1143.31H388.8V1150.74H279.2zM402.5 1143.31H416.2V1150.74H402.5zM429.9 1143.31H457.3V1150.74H429.9zM471 1143.31H484.7V1150.74H471zM183.3 1150.74H197V1158.18H183.3zM224.4 1150.74H251.8V1158.18H224.4zM265.5 1150.74H279.2V1158.18H265.5zM347.7 1150.74H361.4V1158.18H347.7zM416.2 1150.74H429.9V1158.18H416.2zM457.3 1150.74H471V1158.18H457.3zM484.7 1150.74H498.4V1158.18H484.7zM155.9 1158.18H197V1165.62H155.9zM210.7 1158.18H224.4V1165.62H210.7zM238.1 1158.18H251.8V1165.62H238.1zM265.5 1158.18H292.9V1165.62H265.5zM320.3 1158.18H361.4V1165.62H320.3zM402.5 1158.18H443.6V1165.62H402.5zM457.3 1158.18H471V1165.62H457.3zM484.7 1158.18H498.4V1165.62H484.7zM155.9 1165.62H197V1173.05H155.9zM210.7 1165.62H224.4V1173.05H210.7zM238.1 1165.62H251.8V1173.05H238.1zM265.5 1165.62H306.6V1173.05H265.5zM320.3 1165.62H361.4V1173.05H320.3zM388.8 1165.62H443.6V1173.05H388.8zM457.3 1165.62H471V1173.05H457.3zM484.7 1165.62H498.4V1173.05H484.7zM155.9 1173.05H197V1180.49H155.9zM210.7 1173.05H224.4V1180.49H210.7zM238.1 1173.05H251.8V1180.49H238.1zM265.5 1173.05H292.9V1180.49H265.5zM320.3 1173.05H361.4V1180.49H320.3zM388.8 1173.05H443.6V1180.49H388.8zM457.3 1173.05H471V1180.49H457.3zM484.7 1173.05H498.4V1180.49H484.7zM155.9 1180.49H197V1187.93H155.9zM210.7 1180.49H224.4V1187.93H210.7zM238.1 1180.49H251.8V1187.93H238.1zM265.5 1180.49H292.9V1187.93H265.5zM306.6 1180.49H320.3V1187.93H306.6zM334 1180.49H361.4V1187.93H334zM375.1 1180.49H484.7V1187.93H375.1zM169.6 1187.93H183.3V1195.37H169.6zM197 1187.93H402.5V1195.37H197zM429.9 1187.93H484.7V1195.37H429.9zM169.6 1195.37H183.3V1202.8H169.6zM197 1195.37H292.9V1202.8H197zM334 1195.37H347.7V1202.8H334zM375.1 1195.37H388.8V1202.8H375.1zM402.5 1195.37H484.7V1202.8H402.5zM224.4 1202.8H238.1V1210.24H224.4zM251.8 1202.8H265.5V1210.24H251.8zM279.2 1202.8H306.6V1210.24H279.2zM334 1202.8H361.4V1210.24H334zM402.5 1202.8H443.6V1210.24H402.5zM457.3 1202.8H484.7V1210.24H457.3zM155.9 1210.24H320.3V1217.68H155.9zM334 1210.24H361.4V1217.68H334zM375.1 1210.24H443.6V1217.68H375.1zM457.3 1210.24H484.7V1217.68H457.3zM155.9 1217.68H197V1225.11H155.9zM224.4 1217.68H238.1V1225.11H224.4zM251.8 1217.68H292.9V1225.11H251.8zM306.6 1217.68H498.4V1225.11H306.6zM155.9 1225.11H197V1232.55H155.9zM224.4 1225.11H251.8V1232.55H224.4zM265.5 1225.11H292.9V1232.55H265.5zM306.6 1225.11H443.6V1232.55H306.6zM457.3 1225.11H498.4V1232.55H457.3zM155.9 1232.55H169.6V1239.99H155.9zM238.1 1232.55H251.8V1239.99H238.1zM265.5 1232.55H279.2V1239.99H265.5zM347.7 1232.55H361.4V1239.99H347.7zM388.8 1232.55H443.6V1239.99H388.8zM484.7 1232.55H498.4V1239.99H484.7zM183.3 1239.99H197V1247.43H183.3zM210.7 1239.99H224.4V1247.43H210.7zM238.1 1239.99H251.8V1247.43H238.1zM265.5 1239.99H279.2V1247.43H265.5zM484.7 1239.99H498.4V1247.43H484.7zM169.6 1247.43H183.3V1254.86H169.6zM197 1247.43H210.7V1254.86H197zM279.2 1247.43H292.9V1254.86H279.2zM347.7 1247.43H361.4V1254.86H347.7zM183.3 1254.86H197V1262.3H183.3zM210.7 1254.86H251.8V1262.3H210.7zM265.5 1254.86H279.2V1262.3H265.5zM306.6 1254.86H320.3V1262.3H306.6zM347.7 1254.86H361.4V1262.3H347.7zM375.1 1254.86H388.8V1262.3H375.1zM471 1254.86H484.7V1262.3H471z"/><path fill="#cdd9ec" d="M279.2 10.9H306.6V18.43H279.2zM443.6 10.9H457.3V18.43H443.6zM169.6 18.43H183.3V25.97H169.6zM279.2 18.43H292.9V25.97H279.2zM320.3 18.43H361.4V25.97H320.3zM457.3 18.43H471V25.97H457.3zM484.7 18.43H498.4V25.97H484.7zM155.9 25.97H183.3V33.5H155.9zM279.2 25.97H292.9V33.5H279.2zM484.7 25.97H498.4V33.5H484.7zM155.9 33.5H169.6V41.04H155.9zM279.2 33.5H292.9V41.04H279.2zM402.5 33.5H416.2V41.04H402.5zM429.9 33.5H443.6V41.04H429.9zM471 33.5H484.7V41.04H471zM279.2 41.04H292.9V48.57H279.2zM375.1 41.04H388.8V48.57H375.1zM429.9 41.04H443.6V48.57H429.9zM484.7 41.04H498.4V48.57H484.7zM155.9 48.57H169.6V56.11H155.9zM402.5 48.57H416.2V56.11H402.5zM471 48.57H498.4V56.11H471zM334 56.11H347.7V63.64H334zM443.6 56.11H457.3V63.64H443.6zM471 56.11H484.7V63.64H471zM443.6 63.64H457.3V71.18H443.6zM238.1 78.71H251.8V86.25H238.1zM279.2 86.25H292.9V93.78H279.2zM361.4 86.25H375.1V93.78H361.4zM197 93.78H210.7V101.32H197zM224.4 93.78H251.8V101.32H224.4zM265.5 93.78H279.2V101.32H265.5zM292.9 93.78H320.3V101.32H292.9zM347.7 93.78H361.4V101.32H347.7zM429.9 93.78H443.6V101.32H429.9zM457.3 93.78H471V101.32H457.3zM429.9 101.32H443.6V108.85H429.9zM457.3 101.32H471V108.85H457.3zM210.7 108.85H224.4V116.39H210.7zM292.9 108.85H334V116.39H292.9zM429.9 108.85H443.6V116.39H429.9zM210.7 116.39H224.4V123.92H210.7zM279.2 116.39H292.9V123.92H279.2zM320.3 116.39H334V123.92H320.3zM361.4 116.39H375.1V123.92H361.4zM429.9 116.39H443.6V123.92H429.9zM210.7 123.92H224.4V131.46H210.7zM279.2 123.92H292.9V131.46H279.2zM306.6 123.92H334V131.46H306.6zM361.4 123.92H375.1V131.46H361.4zM429.9 123.92H443.6V131.46H429.9zM210.7 131.46H224.4V138.99H210.7zM265.5 131.46H292.9V138.99H265.5zM306.6 131.46H334V138.99H306.6zM210.7 138.99H224.4V146.53H210.7zM265.5 138.99H292.9V146.53H265.5zM416.2 138.99H443.6V146.53H416.2zM155.9 146.53H169.6V154.06H155.9zM210.7 146.53H224.4V154.06H210.7zM279.2 146.53H292.9V154.06H279.2zM197 154.06H210.7V161.6H197zM224.4 154.06H238.1V161.6H224.4zM306.6 154.06H320.3V161.6H306.6zM210.7 161.6H238.1V169.13H210.7zM292.9 161.6H334V169.13H292.9zM361.4 161.6H375.1V169.13H361.4zM443.6 161.6H457.3V169.13H443.6zM471 161.6H498.4V169.13H471zM210.7 169.13H224.4V176.67H210.7zM265.5 169.13H279.2V176.67H265.5zM361.4 169.13H375.1V176.67H361.4zM443.6 169.13H457.3V176.67H443.6zM197 176.67H210.7V184.2H197zM251.8 176.67H265.5V184.2H251.8zM416.2 176.67H429.9V184.2H416.2zM238.1 184.2H251.8V191.74H238.1zM457.3 184.2H471V191.74H457.3zM416.2 191.74H429.9V199.27H416.2zM224.4 214.34H238.1V221.88H224.4zM292.9 214.34H306.6V221.88H292.9zM347.7 214.34H361.4V221.88H347.7zM388.8 214.34H402.5V221.88H388.8zM484.7 221.88H498.4V229.41H484.7zM155.9 229.41H169.6V236.95H155.9zM183.3 229.41H197V236.95H183.3zM210.7 229.41H224.4V236.95H210.7zM306.6 229.41H320.3V236.95H306.6zM471 229.41H484.7V236.95H471zM238.1 236.95H251.8V244.48H238.1zM334 236.95H347.7V244.48H334zM402.5 236.95H416.2V244.48H402.5zM210.7 244.48H224.4V252.02H210.7zM375.1 244.48H388.8V252.02H375.1zM306.6 252.02H320.3V259.55H306.6zM484.7 252.02H498.4V259.55H484.7zM238.1 274.62H251.8V282.16H238.1zM320.3 274.62H334V282.16H320.3zM238.1 282.16H251.8V289.69H238.1zM210.7 289.69H224.4V297.23H210.7zM238.1 289.69H251.8V297.23H238.1zM238.1 297.23H251.8V304.76H238.1zM265.5 297.23H279.2V304.76H265.5zM416.2 297.23H429.9V304.76H416.2zM471 297.23H484.7V304.76H471zM169.6 304.76H183.3V312.3H169.6zM224.4 304.76H238.1V312.3H224.4zM251.8 304.76H265.5V312.3H251.8zM306.6 304.76H320.3V312.3H306.6zM334 304.76H347.7V312.3H334zM457.3 304.76H471V312.3H457.3zM183.3 312.3H197V319.83H183.3zM279.2 312.3H292.9V319.83H279.2zM306.6 312.3H320.3V319.83H306.6zM334 312.3H361.4V319.83H334zM416.2 312.3H443.6V319.83H416.2zM471 312.3H484.7V319.83H471zM169.6 319.83H183.3V327.37H169.6zM251.8 319.83H265.5V327.37H251.8zM279.2 319.83H292.9V327.37H279.2zM334 319.83H347.7V327.37H334zM416.2 319.83H429.9V327.37H416.2zM224.4 327.37H238.1V334.9H224.4zM471 327.37H484.7V334.9H471zM224.4 334.9H238.1V342.44H224.4zM279.2 334.9H292.9V342.44H279.2zM320.3 334.9H334V342.44H320.3zM155.9 342.44H169.6V349.97H155.9zM197 342.44H210.7V349.97H197zM238.1 342.44H251.8V349.97H238.1zM320.3 342.44H334V349.97H320.3zM457.3 342.44H471V349.97H457.3zM251.8 349.97H265.5V357.51H251.8zM429.9 357.51H443.6V365.04H429.9zM155.9 365.04H169.6V372.58H155.9zM306.6 365.04H320.3V372.58H306.6zM429.9 365.04H443.6V372.58H429.9zM416.2 372.58H443.6V380.11H416.2zM183.3 387.65H197V395.18H183.3zM416.2 387.65H429.9V395.18H416.2zM457.3 387.65H471V395.18H457.3zM224.4 395.18H238.1V402.72H224.4zM416.2 402.72H429.9V410.25H416.2zM306.6 410.25H334V417.79H306.6zM361.4 410.25H375.1V417.79H361.4zM388.8 410.25H402.5V417.79H388.8zM265.5 417.79H279.2V425.32H265.5zM320.3 417.79H334V425.32H320.3zM361.4 417.79H402.5V425.32H361.4zM457.3 417.79H471V425.32H457.3zM457.3 425.32H471V432.86H457.3zM197 432.86H210.7V440.39H197zM224.4 432.86H251.8V440.39H224.4zM306.6 432.86H320.3V440.39H306.6zM388.8 432.86H402.5V440.39H388.8zM471 432.86H484.7V440.39H471zM320.3 440.39H334V447.93H320.3zM224.4 463H238.1V470.53H224.4zM251.8 463H265.5V470.53H251.8zM471 470.53H484.7V478.07H471zM238.1 478.07H251.8V485.6H238.1zM265.5 478.07H279.2V485.6H265.5zM484.7 478.07H498.4V485.6H484.7zM306.6 485.6H320.3V493.08H306.6zM334 485.6H347.7V493.08H334zM361.4 485.6H375.1V493.08H361.4zM388.8 493.08H402.5V500.57H388.8zM416.2 493.08H429.9V500.57H416.2zM457.3 493.08H471V500.57H457.3zM197 500.57H210.7V508.05H197zM292.9 500.57H306.6V508.05H292.9zM457.3 500.57H471V508.05H457.3zM169.6 508.05H183.3V515.54H169.6zM197 508.05H224.4V515.54H197zM279.2 508.05H292.9V515.54H279.2zM306.6 508.05H320.3V515.54H306.6zM361.4 508.05H375.1V515.54H361.4zM265.5 545.47H279.2V552.96H265.5zM388.8 545.47H402.5V552.96H388.8zM457.3 545.47H471V552.96H457.3zM197 552.96H210.7V560.44H197zM388.8 552.96H402.5V560.44H388.8zM457.3 552.96H471V560.44H457.3zM251.8 567.92H265.5V575.41H251.8zM306.6 567.92H320.3V575.41H306.6zM361.4 567.92H375.1V575.41H361.4zM388.8 567.92H402.5V575.41H388.8zM416.2 567.92H429.9V575.41H416.2zM457.3 567.92H471V575.41H457.3zM265.5 575.41H279.2V582.89H265.5zM471 575.41H484.7V582.89H471zM238.1 582.89H251.8V590.38H238.1zM265.5 582.89H279.2V590.38H265.5zM292.9 582.89H306.6V590.38H292.9zM320.3 582.89H334V590.38H320.3zM471 582.89H484.7V590.38H471zM183.3 590.38H197V597.86H183.3zM306.6 590.38H320.3V597.86H306.6zM210.7 597.86H224.4V605.34H210.7zM320.3 597.86H334V605.34H320.3zM347.7 597.86H375.1V605.34H347.7zM388.8 597.86H402.5V605.34H388.8zM155.9 605.34H169.6V612.83H155.9zM279.2 605.34H292.9V612.83H279.2zM320.3 605.34H334V612.83H320.3zM416.2 605.34H429.9V612.83H416.2zM457.3 605.34H471V612.83H457.3zM155.9 612.83H183.3V620.31H155.9zM210.7 612.83H224.4V620.31H210.7zM292.9 612.83H306.6V620.31H292.9zM388.8 612.83H402.5V620.31H388.8zM155.9 620.31H183.3V627.8H155.9zM210.7 620.31H224.4V627.8H210.7zM416.2 620.31H429.9V627.8H416.2zM457.3 620.31H471V627.8H457.3zM183.3 627.8H197V635.28H183.3zM210.7 627.8H224.4V635.28H210.7zM279.2 627.8H292.9V635.28H279.2zM306.6 627.8H320.3V635.28H306.6zM334 627.8H347.7V635.28H334zM416.2 627.8H429.9V635.28H416.2zM457.3 627.8H471V635.28H457.3zM197 635.28H210.7V642.77H197zM375.1 635.28H388.8V642.77H375.1zM416.2 635.28H429.9V642.77H416.2zM443.6 635.28H471V642.77H443.6zM484.7 635.28H498.4V642.77H484.7zM155.9 642.77H169.6V650.25H155.9zM197 642.77H210.7V650.25H197zM238.1 642.77H251.8V650.25H238.1zM306.6 642.77H320.3V650.25H306.6zM388.8 642.77H402.5V650.25H388.8zM183.3 650.25H210.7V657.73H183.3zM224.4 650.25H251.8V657.73H224.4zM265.5 650.25H279.2V657.73H265.5zM155.9 657.73H169.6V665.22H155.9zM238.1 657.73H251.8V665.22H238.1zM265.5 657.73H279.2V665.22H265.5zM347.7 657.73H361.4V665.22H347.7zM155.9 665.22H183.3V672.7H155.9zM279.2 665.22H292.9V672.7H279.2zM334 665.22H347.7V672.7H334zM388.8 665.22H402.5V672.7H388.8zM429.9 665.22H443.6V672.7H429.9zM210.7 672.7H224.4V680.19H210.7zM238.1 672.7H265.5V680.19H238.1zM292.9 672.7H306.6V680.19H292.9zM347.7 672.7H361.4V680.19H347.7zM402.5 672.7H416.2V680.19H402.5zM429.9 672.7H443.6V680.19H429.9zM471 672.7H484.7V680.19H471zM224.4 680.19H238.1V687.67H224.4zM251.8 680.19H265.5V687.67H251.8zM375.1 680.19H388.8V687.67H375.1zM443.6 680.19H457.3V687.67H443.6zM169.6 687.67H197V695.15H169.6zM224.4 687.67H238.1V695.15H224.4zM251.8 687.67H265.5V695.15H251.8zM306.6 687.67H320.3V695.15H306.6zM334 687.67H347.7V695.15H334zM402.5 687.67H429.9V695.15H402.5zM471 687.67H484.7V695.15H471zM155.9 695.15H169.6V702.64H155.9zM210.7 695.15H224.4V702.64H210.7zM292.9 695.15H320.3V702.64H292.9zM471 695.15H484.7V702.64H471zM292.9 702.64H306.6V710.12H292.9zM429.9 702.64H443.6V710.12H429.9zM197 710.12H210.7V717.61H197zM457.3 710.12H471V717.61H457.3zM197 717.61H210.7V725.09H197zM224.4 717.61H238.1V725.09H224.4zM388.8 717.61H402.5V725.09H388.8zM429.9 717.61H443.6V725.09H429.9zM471 717.61H484.7V725.09H471zM251.8 725.09H265.5V732.57H251.8zM292.9 725.09H306.6V732.57H292.9zM416.2 725.09H429.9V732.57H416.2zM471 725.09H484.7V732.57H471zM251.8 732.57H265.5V740.06H251.8zM347.7 732.57H361.4V740.06H347.7zM416.2 732.57H443.6V740.06H416.2zM471 732.57H484.7V740.06H471zM224.4 740.06H238.1V747.54H224.4zM279.2 740.06H292.9V747.54H279.2zM306.6 740.06H320.3V747.54H306.6zM402.5 740.06H416.2V747.54H402.5zM224.4 747.54H238.1V755.03H224.4zM251.8 747.54H265.5V755.03H251.8zM224.4 755.03H238.1V762.51H224.4zM471 755.03H484.7V762.51H471zM238.1 762.51H279.2V769.99H238.1zM306.6 762.51H320.3V769.99H306.6zM443.6 762.51H471V769.99H443.6zM279.2 769.99H306.6V777.48H279.2zM347.7 769.99H361.4V777.48H347.7zM375.1 769.99H416.2V777.48H375.1zM429.9 769.99H457.3V777.48H429.9zM155.9 777.48H169.6V784.96H155.9zM183.3 777.48H197V784.96H183.3zM238.1 777.48H251.8V784.96H238.1zM265.5 777.48H279.2V784.96H265.5zM388.8 777.48H429.9V784.96H388.8zM457.3 777.48H471V784.96H457.3zM306.6 784.96H320.3V792.45H306.6zM334 784.96H375.1V792.45H334zM457.3 784.96H471V792.45H457.3zM183.3 792.45H210.7V799.93H183.3zM238.1 792.45H251.8V799.93H238.1zM334 792.45H347.7V799.93H334zM361.4 792.45H375.1V799.93H361.4zM169.6 799.93H183.3V807.41H169.6zM197 799.93H210.7V807.41H197zM224.4 799.93H238.1V807.41H224.4zM334 799.93H361.4V807.41H334zM471 799.93H484.7V807.41H471zM197 807.41H210.7V814.9H197zM224.4 807.41H265.5V814.9H224.4zM279.2 807.41H361.4V814.9H279.2zM375.1 807.41H388.8V814.9H375.1zM457.3 807.41H471V814.9H457.3zM484.7 807.41H498.4V814.9H484.7zM197 814.9H210.7V822.38H197zM292.9 814.9H334V822.38H292.9zM361.4 814.9H375.1V822.38H361.4zM388.8 814.9H402.5V822.38H388.8zM429.9 814.9H443.6V822.38H429.9zM197 822.38H265.5V829.87H197zM292.9 822.38H306.6V829.87H292.9zM361.4 822.38H375.1V829.87H361.4zM388.8 822.38H402.5V829.87H388.8zM416.2 822.38H429.9V829.87H416.2zM197 829.87H224.4V837.35H197zM279.2 829.87H320.3V837.35H279.2zM361.4 829.87H375.1V837.35H361.4zM210.7 837.35H265.5V844.83H210.7zM279.2 837.35H334V844.83H279.2zM361.4 837.35H375.1V844.83H361.4zM197 844.83H265.5V852.32H197zM306.6 844.83H320.3V852.32H306.6zM429.9 844.83H443.6V852.32H429.9zM471 844.83H484.7V852.32H471zM320.3 852.32H334V859.8H320.3zM155.9 859.8H169.6V867.29H155.9zM320.3 859.8H334V867.29H320.3zM347.7 859.8H361.4V867.29H347.7zM388.8 859.8H416.2V867.29H388.8zM457.3 859.8H484.7V867.29H457.3zM169.6 867.29H197V874.77H169.6zM224.4 867.29H238.1V874.77H224.4zM306.6 867.29H320.3V874.77H306.6zM347.7 867.29H361.4V874.77H347.7zM457.3 867.29H471V874.77H457.3zM251.8 874.77H265.5V882.26H251.8zM457.3 874.77H471V882.26H457.3zM224.4 882.26H238.1V889.74H224.4zM484.7 882.26H498.4V889.74H484.7zM292.9 889.74H306.6V897.22H292.9zM320.3 889.74H334V897.22H320.3zM197 897.22H210.7V904.71H197zM375.1 897.22H388.8V904.71H375.1zM155.9 904.71H169.6V912.19H155.9zM224.4 904.71H251.8V912.19H224.4zM279.2 904.71H292.9V912.19H279.2zM416.2 904.71H429.9V912.19H416.2zM457.3 904.71H471V912.19H457.3zM183.3 912.19H197V919.68H183.3zM224.4 912.19H238.1V919.68H224.4zM457.3 912.19H471V919.68H457.3zM429.9 919.68H443.6V927.16H429.9zM457.3 919.68H471V927.16H457.3zM429.9 927.16H443.6V934.64H429.9zM457.3 927.16H471V934.64H457.3zM484.7 927.16H498.4V934.64H484.7zM210.7 934.64H224.4V942.13H210.7zM320.3 934.64H334V942.13H320.3zM429.9 934.64H443.6V942.13H429.9zM457.3 934.64H471V942.13H457.3zM197 942.13H224.4V949.61H197zM443.6 942.13H471V949.61H443.6zM484.7 942.13H498.4V949.61H484.7zM210.7 949.61H224.4V957.1H210.7zM251.8 949.61H279.2V957.1H251.8zM484.7 949.61H498.4V957.1H484.7zM197 957.1H224.4V964.58H197zM443.6 957.1H457.3V964.58H443.6zM155.9 964.58H169.6V972.06H155.9zM375.1 964.58H388.8V972.06H375.1zM402.5 964.58H416.2V972.06H402.5zM443.6 964.58H457.3V972.06H443.6zM155.9 972.06H169.6V979.55H155.9zM210.7 972.06H224.4V979.55H210.7zM320.3 972.06H334V979.55H320.3zM375.1 972.06H402.5V979.55H375.1zM429.9 972.06H443.6V979.55H429.9zM210.7 979.55H224.4V987.03H210.7zM238.1 979.55H251.8V987.03H238.1zM416.2 979.55H429.9V987.03H416.2zM457.3 979.55H498.4V987.03H457.3zM210.7 987.03H224.4V994.52H210.7zM238.1 987.03H251.8V994.52H238.1zM416.2 987.03H443.6V994.52H416.2zM457.3 987.03H498.4V994.52H457.3zM279.2 994.52H292.9V1002H279.2zM388.8 994.52H402.5V1002H388.8zM429.9 994.52H443.6V1002H429.9zM210.7 1002H224.4V1009.44H210.7zM251.8 1002H265.5V1009.44H251.8zM334 1002H347.7V1009.44H334zM388.8 1002H402.5V1009.44H388.8zM471 1002H484.7V1009.44H471zM224.4 1009.44H238.1V1016.87H224.4zM457.3 1009.44H484.7V1016.87H457.3zM402.5 1016.87H429.9V1024.31H402.5zM457.3 1016.87H471V1024.31H457.3zM224.4 1024.31H238.1V1031.75H224.4zM265.5 1024.31H279.2V1031.75H265.5zM429.9 1024.31H443.6V1031.75H429.9zM457.3 1024.31H484.7V1031.75H457.3zM224.4 1031.75H238.1V1039.19H224.4zM265.5 1031.75H279.2V1039.19H265.5zM292.9 1031.75H306.6V1039.19H292.9zM334 1031.75H347.7V1039.19H334zM388.8 1031.75H402.5V1039.19H388.8zM484.7 1031.75H498.4V1039.19H484.7zM169.6 1039.19H183.3V1046.62H169.6zM292.9 1039.19H306.6V1046.62H292.9zM334 1039.19H347.7V1046.62H334zM155.9 1046.62H183.3V1054.06H155.9zM251.8 1046.62H265.5V1054.06H251.8zM279.2 1046.62H292.9V1054.06H279.2zM347.7 1046.62H375.1V1054.06H347.7zM416.2 1046.62H429.9V1054.06H416.2zM471 1046.62H484.7V1054.06H471zM155.9 1054.06H183.3V1061.5H155.9zM292.9 1054.06H306.6V1061.5H292.9zM251.8 1061.5H265.5V1068.93H251.8zM347.7 1061.5H361.4V1068.93H347.7zM375.1 1061.5H388.8V1068.93H375.1zM429.9 1061.5H443.6V1068.93H429.9zM457.3 1061.5H471V1068.93H457.3zM197 1068.93H210.7V1076.37H197zM306.6 1068.93H320.3V1076.37H306.6zM429.9 1068.93H443.6V1076.37H429.9zM155.9 1076.37H197V1083.81H155.9zM402.5 1076.37H416.2V1083.81H402.5zM375.1 1083.81H388.8V1091.25H375.1zM183.3 1091.25H197V1098.68H183.3zM320.3 1091.25H334V1098.68H320.3zM375.1 1091.25H388.8V1098.68H375.1zM484.7 1091.25H498.4V1098.68H484.7zM238.1 1098.68H251.8V1106.12H238.1zM265.5 1098.68H279.2V1106.12H265.5zM306.6 1098.68H320.3V1106.12H306.6zM334 1098.68H347.7V1106.12H334zM443.6 1098.68H457.3V1106.12H443.6zM471 1098.68H484.7V1106.12H471zM238.1 1106.12H251.8V1113.56H238.1zM361.4 1106.12H375.1V1113.56H361.4zM443.6 1106.12H457.3V1113.56H443.6zM251.8 1113.56H265.5V1120.99H251.8zM457.3 1113.56H471V1120.99H457.3zM169.6 1120.99H210.7V1128.43H169.6zM224.4 1120.99H238.1V1128.43H224.4zM251.8 1120.99H265.5V1128.43H251.8zM279.2 1120.99H292.9V1128.43H279.2zM334 1120.99H347.7V1128.43H334zM375.1 1120.99H388.8V1128.43H375.1zM402.5 1120.99H416.2V1128.43H402.5zM429.9 1120.99H443.6V1128.43H429.9zM484.7 1120.99H498.4V1128.43H484.7zM320.3 1128.43H334V1135.87H320.3zM416.2 1128.43H429.9V1135.87H416.2zM457.3 1128.43H471V1135.87H457.3zM238.1 1135.87H251.8V1143.31H238.1zM265.5 1135.87H279.2V1143.31H265.5zM320.3 1135.87H334V1143.31H320.3zM416.2 1135.87H429.9V1143.31H416.2zM416.2 1143.31H429.9V1150.74H416.2zM210.7 1150.74H224.4V1158.18H210.7zM251.8 1150.74H265.5V1158.18H251.8zM292.9 1150.74H306.6V1158.18H292.9zM375.1 1150.74H402.5V1158.18H375.1zM224.4 1158.18H238.1V1165.62H224.4zM251.8 1158.18H265.5V1165.62H251.8zM292.9 1158.18H306.6V1165.62H292.9zM361.4 1158.18H375.1V1165.62H361.4zM388.8 1158.18H402.5V1165.62H388.8zM224.4 1165.62H238.1V1173.05H224.4zM251.8 1165.62H265.5V1173.05H251.8zM361.4 1165.62H375.1V1173.05H361.4zM471 1165.62H484.7V1173.05H471zM224.4 1173.05H238.1V1180.49H224.4zM251.8 1173.05H265.5V1180.49H251.8zM292.9 1173.05H306.6V1180.49H292.9zM361.4 1173.05H375.1V1180.49H361.4zM197 1180.49H210.7V1187.93H197zM224.4 1180.49H238.1V1187.93H224.4zM251.8 1180.49H265.5V1187.93H251.8zM361.4 1180.49H375.1V1187.93H361.4zM155.9 1187.93H169.6V1195.37H155.9zM183.3 1187.93H197V1195.37H183.3zM402.5 1187.93H429.9V1195.37H402.5zM155.9 1195.37H169.6V1202.8H155.9zM183.3 1195.37H197V1202.8H183.3zM388.8 1195.37H402.5V1202.8H388.8zM197 1202.8H210.7V1210.24H197zM238.1 1202.8H251.8V1210.24H238.1zM265.5 1202.8H279.2V1210.24H265.5zM375.1 1202.8H388.8V1210.24H375.1zM443.6 1202.8H457.3V1210.24H443.6zM443.6 1210.24H457.3V1217.68H443.6zM197 1225.11H224.4V1232.55H197zM251.8 1225.11H265.5V1232.55H251.8zM183.3 1232.55H210.7V1239.99H183.3zM251.8 1232.55H265.5V1239.99H251.8zM375.1 1232.55H388.8V1239.99H375.1zM334 1239.99H347.7V1247.43H334zM402.5 1239.99H416.2V1247.43H402.5zM429.9 1239.99H443.6V1247.43H429.9zM457.3 1239.99H484.7V1247.43H457.3zM224.4 1247.43H265.5V1254.86H224.4zM429.9 1247.43H443.6V1254.86H429.9zM471 1247.43H484.7V1254.86H471zM155.9 1254.86H169.6V1262.3H155.9zM279.2 1254.86H292.9V1262.3H279.2zM388.8 1254.86H402.5V1262.3H388.8zM416.2 1254.86H443.6V1262.3H416.2zM457.3 1254.86H471V1262.3H457.3z"/><path fill="#fafbfc" d="M169.6 10.9H197V18.43H169.6zM306.6 10.9H320.3V18.43H306.6zM334 10.9H347.7V18.43H334zM457.3 10.9H498.4V18.43H457.3zM183.3 18.43H197V25.97H183.3zM292.9 18.43H306.6V25.97H292.9zM334 25.97H361.4V33.5H334zM471 25.97H484.7V33.5H471zM169.6 33.5H183.3V41.04H169.6zM306.6 33.5H320.3V41.04H306.6zM334 33.5H347.7V41.04H334zM388.8 33.5H402.5V41.04H388.8zM416.2 33.5H429.9V41.04H416.2zM457.3 33.5H471V41.04H457.3zM169.6 41.04H197V48.57H169.6zM292.9 41.04H306.6V48.57H292.9zM402.5 41.04H416.2V48.57H402.5zM279.2 48.57H292.9V56.11H279.2zM429.9 48.57H443.6V56.11H429.9zM224.4 56.11H238.1V63.64H224.4zM306.6 56.11H320.3V63.64H306.6zM155.9 63.64H169.6V71.18H155.9zM197 63.64H210.7V71.18H197zM224.4 63.64H238.1V71.18H224.4zM251.8 71.18H265.5V78.71H251.8zM155.9 78.71H169.6V86.25H155.9zM347.7 78.71H361.4V86.25H347.7zM416.2 78.71H429.9V86.25H416.2zM197 101.32H210.7V108.85H197zM224.4 101.32H251.8V108.85H224.4zM471 101.32H484.7V108.85H471zM197 108.85H210.7V116.39H197zM224.4 108.85H238.1V116.39H224.4zM457.3 108.85H471V116.39H457.3zM484.7 108.85H498.4V116.39H484.7zM197 116.39H210.7V123.92H197zM224.4 116.39H238.1V123.92H224.4zM251.8 116.39H265.5V123.92H251.8zM457.3 116.39H484.7V123.92H457.3zM197 123.92H210.7V131.46H197zM224.4 123.92H238.1V131.46H224.4zM251.8 123.92H265.5V131.46H251.8zM457.3 123.92H471V131.46H457.3zM484.7 123.92H498.4V131.46H484.7zM197 131.46H210.7V138.99H197zM224.4 131.46H238.1V138.99H224.4zM251.8 131.46H265.5V138.99H251.8zM429.9 131.46H443.6V138.99H429.9zM457.3 131.46H498.4V138.99H457.3zM197 138.99H210.7V146.53H197zM457.3 138.99H471V146.53H457.3zM197 146.53H210.7V154.06H197zM224.4 146.53H238.1V154.06H224.4zM251.8 146.53H265.5V154.06H251.8zM429.9 146.53H443.6V154.06H429.9zM457.3 146.53H471V154.06H457.3zM155.9 154.06H169.6V161.6H155.9zM251.8 154.06H265.5V161.6H251.8zM279.2 154.06H292.9V161.6H279.2zM429.9 154.06H443.6V161.6H429.9zM457.3 154.06H471V161.6H457.3zM484.7 154.06H498.4V161.6H484.7zM197 161.6H210.7V169.13H197zM251.8 161.6H265.5V169.13H251.8zM388.8 161.6H402.5V169.13H388.8zM416.2 161.6H429.9V169.13H416.2zM457.3 161.6H471V169.13H457.3zM197 169.13H210.7V176.67H197zM361.4 206.81H375.1V214.34H361.4zM457.3 206.81H471V214.34H457.3zM484.7 206.81H498.4V214.34H484.7zM265.5 214.34H279.2V221.88H265.5zM210.7 221.88H224.4V229.41H210.7zM388.8 221.88H402.5V229.41H388.8zM265.5 229.41H279.2V236.95H265.5zM416.2 236.95H429.9V244.48H416.2zM238.1 244.48H251.8V252.02H238.1zM265.5 244.48H279.2V252.02H265.5zM388.8 267.09H402.5V274.62H388.8zM155.9 274.62H169.6V282.16H155.9zM388.8 274.62H402.5V282.16H388.8zM484.7 274.62H498.4V282.16H484.7zM306.6 282.16H320.3V289.69H306.6zM484.7 282.16H498.4V289.69H484.7zM347.7 289.69H361.4V297.23H347.7zM388.8 289.69H402.5V297.23H388.8zM388.8 297.23H402.5V304.76H388.8zM279.2 304.76H292.9V312.3H279.2zM320.3 304.76H334V312.3H320.3zM361.4 304.76H375.1V312.3H361.4zM429.9 304.76H443.6V312.3H429.9zM471 304.76H484.7V312.3H471zM457.3 312.3H471V319.83H457.3zM183.3 319.83H197V327.37H183.3zM306.6 319.83H320.3V327.37H306.6zM429.9 319.83H443.6V327.37H429.9zM457.3 319.83H484.7V327.37H457.3zM155.9 327.37H169.6V334.9H155.9zM251.8 327.37H265.5V334.9H251.8zM279.2 327.37H320.3V334.9H279.2zM197 334.9H210.7V342.44H197zM224.4 342.44H238.1V349.97H224.4zM251.8 342.44H265.5V349.97H251.8zM416.2 342.44H429.9V349.97H416.2zM361.4 349.97H375.1V357.51H361.4zM457.3 357.51H484.7V365.04H457.3zM183.3 365.04H197V372.58H183.3zM347.7 365.04H375.1V372.58H347.7zM183.3 372.58H197V380.11H183.3zM224.4 372.58H238.1V380.11H224.4zM251.8 372.58H265.5V380.11H251.8zM388.8 387.65H402.5V395.18H388.8zM320.3 395.18H334V402.72H320.3zM361.4 395.18H375.1V402.72H361.4zM210.7 410.25H224.4V417.79H210.7zM238.1 410.25H251.8V417.79H238.1zM375.1 410.25H388.8V417.79H375.1zM238.1 417.79H251.8V425.32H238.1zM443.6 417.79H457.3V425.32H443.6zM306.6 425.32H320.3V432.86H306.6zM361.4 425.32H375.1V432.86H361.4zM320.3 432.86H334V440.39H320.3zM361.4 432.86H375.1V440.39H361.4zM416.2 432.86H429.9V440.39H416.2zM457.3 432.86H471V440.39H457.3zM265.5 440.39H279.2V447.93H265.5zM292.9 440.39H306.6V447.93H292.9zM347.7 440.39H361.4V447.93H347.7zM292.9 463H306.6V470.53H292.9zM457.3 478.07H471V485.6H457.3zM265.5 493.08H279.2V500.57H265.5zM484.7 500.57H498.4V508.05H484.7zM292.9 508.05H306.6V515.54H292.9zM197 545.47H210.7V552.96H197zM224.4 545.47H251.8V552.96H224.4zM484.7 552.96H498.4V560.44H484.7zM155.9 567.92H169.6V575.41H155.9zM197 567.92H210.7V575.41H197zM292.9 567.92H306.6V575.41H292.9zM471 567.92H484.7V575.41H471zM361.4 575.41H375.1V582.89H361.4zM416.2 575.41H429.9V582.89H416.2zM457.3 575.41H471V582.89H457.3zM484.7 575.41H498.4V582.89H484.7zM155.9 582.89H169.6V590.38H155.9zM183.3 582.89H197V590.38H183.3zM416.2 582.89H429.9V590.38H416.2zM457.3 582.89H471V590.38H457.3zM388.8 590.38H402.5V597.86H388.8zM457.3 590.38H471V597.86H457.3zM238.1 597.86H251.8V605.34H238.1zM265.5 597.86H279.2V605.34H265.5zM416.2 597.86H429.9V605.34H416.2zM457.3 597.86H471V605.34H457.3zM238.1 605.34H251.8V612.83H238.1zM265.5 605.34H279.2V612.83H265.5zM347.7 605.34H361.4V612.83H347.7zM347.7 612.83H361.4V620.31H347.7zM416.2 612.83H429.9V620.31H416.2zM457.3 612.83H471V620.31H457.3zM183.3 620.31H197V627.8H183.3zM292.9 620.31H320.3V627.8H292.9zM155.9 627.8H169.6V635.28H155.9zM306.6 635.28H320.3V642.77H306.6zM388.8 635.28H402.5V642.77H388.8zM265.5 642.77H279.2V650.25H265.5zM155.9 650.25H169.6V657.73H155.9zM183.3 657.73H197V665.22H183.3zM224.4 657.73H238.1V665.22H224.4zM388.8 657.73H402.5V665.22H388.8zM183.3 665.22H197V672.7H183.3zM306.6 665.22H320.3V672.7H306.6zM416.2 665.22H429.9V672.7H416.2zM471 665.22H484.7V672.7H471zM155.9 672.7H197V680.19H155.9zM265.5 672.7H292.9V680.19H265.5zM306.6 672.7H320.3V680.19H306.6zM334 672.7H347.7V680.19H334zM388.8 672.7H402.5V680.19H388.8zM210.7 680.19H224.4V687.67H210.7zM238.1 680.19H251.8V687.67H238.1zM402.5 680.19H416.2V687.67H402.5zM457.3 680.19H484.7V687.67H457.3zM279.2 687.67H292.9V695.15H279.2zM388.8 687.67H402.5V695.15H388.8zM197 695.15H210.7V702.64H197zM238.1 695.15H251.8V702.64H238.1zM361.4 695.15H375.1V702.64H361.4zM416.2 695.15H443.6V702.64H416.2zM457.3 695.15H471V702.64H457.3zM197 702.64H224.4V710.12H197zM388.8 702.64H402.5V710.12H388.8zM416.2 702.64H429.9V710.12H416.2zM457.3 702.64H484.7V710.12H457.3zM210.7 710.12H224.4V717.61H210.7zM388.8 710.12H402.5V717.61H388.8zM416.2 710.12H429.9V717.61H416.2zM471 710.12H484.7V717.61H471zM251.8 717.61H265.5V725.09H251.8zM416.2 717.61H429.9V725.09H416.2zM457.3 717.61H471V725.09H457.3zM155.9 725.09H169.6V732.57H155.9zM197 725.09H210.7V732.57H197zM388.8 725.09H402.5V732.57H388.8zM429.9 725.09H443.6V732.57H429.9zM388.8 732.57H402.5V740.06H388.8zM210.7 740.06H224.4V747.54H210.7zM320.3 740.06H334V747.54H320.3zM155.9 747.54H169.6V755.03H155.9zM197 747.54H210.7V755.03H197zM238.1 747.54H251.8V755.03H238.1zM347.7 747.54H361.4V755.03H347.7zM388.8 747.54H402.5V755.03H388.8zM197 755.03H224.4V762.51H197zM238.1 755.03H251.8V762.51H238.1zM416.2 755.03H429.9V762.51H416.2zM183.3 762.51H210.7V769.99H183.3zM224.4 762.51H238.1V769.99H224.4zM347.7 762.51H361.4V769.99H347.7zM388.8 762.51H402.5V769.99H388.8zM416.2 762.51H429.9V769.99H416.2zM169.6 769.99H197V777.48H169.6zM306.6 769.99H320.3V777.48H306.6zM334 769.99H347.7V777.48H334zM457.3 769.99H498.4V777.48H457.3zM169.6 777.48H183.3V784.96H169.6zM210.7 777.48H224.4V784.96H210.7zM279.2 777.48H320.3V784.96H279.2zM334 777.48H347.7V784.96H334zM375.1 777.48H388.8V784.96H375.1zM443.6 777.48H457.3V784.96H443.6zM279.2 784.96H292.9V792.45H279.2zM155.9 792.45H169.6V799.93H155.9zM251.8 799.93H265.5V807.41H251.8zM279.2 799.93H292.9V807.41H279.2zM416.2 799.93H429.9V807.41H416.2zM457.3 799.93H471V807.41H457.3zM155.9 807.41H169.6V814.9H155.9zM155.9 814.9H169.6V822.38H155.9zM224.4 814.9H238.1V822.38H224.4zM251.8 814.9H265.5V822.38H251.8zM279.2 814.9H292.9V822.38H279.2zM416.2 814.9H429.9V822.38H416.2zM279.2 822.38H292.9V829.87H279.2zM429.9 822.38H443.6V829.87H429.9zM457.3 822.38H471V829.87H457.3zM224.4 829.87H265.5V837.35H224.4zM320.3 829.87H334V837.35H320.3zM429.9 829.87H443.6V837.35H429.9zM457.3 829.87H471V837.35H457.3zM197 837.35H210.7V844.83H197zM457.3 837.35H471V844.83H457.3zM457.3 844.83H471V852.32H457.3zM169.6 859.8H197V867.29H169.6zM279.2 859.8H320.3V867.29H279.2zM334 859.8H347.7V867.29H334zM416.2 859.8H429.9V867.29H416.2zM334 867.29H347.7V874.77H334zM402.5 867.29H416.2V874.77H402.5zM429.9 867.29H443.6V874.77H429.9zM416.2 874.77H429.9V882.26H416.2zM471 874.77H484.7V882.26H471zM224.4 889.74H238.1V897.22H224.4zM251.8 889.74H265.5V897.22H251.8zM375.1 889.74H388.8V897.22H375.1zM443.6 889.74H457.3V897.22H443.6zM279.2 897.22H292.9V904.71H279.2zM388.8 897.22H402.5V904.71H388.8zM292.9 904.71H320.3V912.19H292.9zM429.9 904.71H443.6V912.19H429.9zM155.9 912.19H169.6V919.68H155.9zM429.9 912.19H443.6V919.68H429.9zM197 934.64H210.7V942.13H197zM224.4 942.13H238.1V949.61H224.4zM265.5 942.13H279.2V949.61H265.5zM197 949.61H210.7V957.1H197zM224.4 949.61H238.1V957.1H224.4zM443.6 949.61H471V957.1H443.6zM224.4 957.1H238.1V964.58H224.4zM251.8 957.1H279.2V964.58H251.8zM457.3 957.1H471V964.58H457.3zM197 964.58H210.7V972.06H197zM471 964.58H498.4V972.06H471zM197 972.06H210.7V979.55H197zM224.4 972.06H238.1V979.55H224.4zM292.9 972.06H306.6V979.55H292.9zM361.4 972.06H375.1V979.55H361.4zM197 979.55H210.7V987.03H197zM197 987.03H210.7V994.52H197zM265.5 987.03H306.6V994.52H265.5zM197 994.52H210.7V1002H197zM265.5 994.52H279.2V1002H265.5zM292.9 994.52H320.3V1002H292.9zM416.2 994.52H429.9V1002H416.2zM457.3 994.52H484.7V1002H457.3zM251.8 1009.44H265.5V1016.87H251.8zM169.6 1016.87H197V1024.31H169.6zM183.3 1024.31H197V1031.75H183.3zM238.1 1024.31H265.5V1031.75H238.1zM388.8 1024.31H402.5V1031.75H388.8zM155.9 1031.75H169.6V1039.19H155.9zM251.8 1031.75H265.5V1039.19H251.8zM306.6 1031.75H320.3V1039.19H306.6zM457.3 1031.75H471V1039.19H457.3zM183.3 1039.19H197V1046.62H183.3zM279.2 1039.19H292.9V1046.62H279.2zM320.3 1039.19H334V1046.62H320.3zM347.7 1039.19H375.1V1046.62H347.7zM471 1039.19H484.7V1046.62H471zM306.6 1046.62H320.3V1054.06H306.6zM457.3 1046.62H471V1054.06H457.3zM183.3 1054.06H197V1061.5H183.3zM251.8 1054.06H265.5V1061.5H251.8zM279.2 1054.06H292.9V1061.5H279.2zM306.6 1054.06H320.3V1061.5H306.6zM334 1054.06H347.7V1061.5H334zM169.6 1061.5H197V1068.93H169.6zM279.2 1061.5H292.9V1068.93H279.2zM334 1061.5H347.7V1068.93H334zM471 1061.5H484.7V1068.93H471zM429.9 1076.37H457.3V1083.81H429.9zM471 1076.37H484.7V1083.81H471zM251.8 1083.81H265.5V1091.25H251.8zM457.3 1083.81H471V1091.25H457.3zM210.7 1098.68H224.4V1106.12H210.7zM375.1 1098.68H402.5V1106.12H375.1zM457.3 1098.68H471V1106.12H457.3zM265.5 1106.12H279.2V1113.56H265.5zM292.9 1106.12H306.6V1113.56H292.9zM416.2 1106.12H429.9V1113.56H416.2zM457.3 1106.12H471V1113.56H457.3zM238.1 1113.56H251.8V1120.99H238.1zM265.5 1113.56H279.2V1120.99H265.5zM375.1 1113.56H388.8V1120.99H375.1zM416.2 1113.56H429.9V1120.99H416.2zM210.7 1120.99H224.4V1128.43H210.7zM265.5 1120.99H279.2V1128.43H265.5zM388.8 1120.99H402.5V1128.43H388.8zM416.2 1120.99H429.9V1128.43H416.2zM457.3 1120.99H471V1128.43H457.3zM238.1 1128.43H251.8V1135.87H238.1zM265.5 1128.43H279.2V1135.87H265.5zM484.7 1128.43H498.4V1135.87H484.7zM210.7 1135.87H224.4V1143.31H210.7zM361.4 1135.87H375.1V1143.31H361.4zM238.1 1143.31H251.8V1150.74H238.1zM265.5 1143.31H279.2V1150.74H265.5zM306.6 1150.74H334V1158.18H306.6zM471 1150.74H484.7V1158.18H471zM375.1 1158.18H388.8V1165.62H375.1zM375.1 1165.62H388.8V1173.05H375.1zM197 1173.05H210.7V1180.49H197zM375.1 1173.05H388.8V1180.49H375.1zM471 1173.05H484.7V1180.49H471zM292.9 1180.49H306.6V1187.93H292.9zM292.9 1195.37H306.6V1202.8H292.9zM320.3 1195.37H334V1202.8H320.3zM347.7 1195.37H361.4V1202.8H347.7zM484.7 1195.37H498.4V1202.8H484.7zM210.7 1202.8H224.4V1210.24H210.7zM306.6 1202.8H320.3V1210.24H306.6zM388.8 1202.8H402.5V1210.24H388.8zM197 1217.68H210.7V1225.11H197zM238.1 1217.68H251.8V1225.11H238.1zM292.9 1217.68H306.6V1225.11H292.9zM169.6 1232.55H183.3V1239.99H169.6zM279.2 1232.55H292.9V1239.99H279.2zM334 1232.55H347.7V1239.99H334zM457.3 1232.55H471V1239.99H457.3zM155.9 1239.99H183.3V1247.43H155.9zM197 1239.99H210.7V1247.43H197zM224.4 1239.99H238.1V1247.43H224.4zM279.2 1239.99H292.9V1247.43H279.2zM306.6 1239.99H320.3V1247.43H306.6zM306.6 1247.43H320.3V1254.86H306.6zM334 1247.43H347.7V1254.86H334zM375.1 1247.43H429.9V1254.86H375.1zM443.6 1247.43H457.3V1254.86H443.6zM169.6 1254.86H183.3V1262.3H169.6zM251.8 1254.86H265.5V1262.3H251.8zM334 1254.86H347.7V1262.3H334zM402.5 1254.86H416.2V1262.3H402.5z"/><path fill="#f8dcde" d="M306.6 18.43H320.3V25.97H306.6zM471 18.43H484.7V25.97H471zM183.3 25.97H197V33.5H183.3zM292.9 25.97H320.3V33.5H292.9zM183.3 33.5H197V41.04H183.3zM155.9 41.04H169.6V48.57H155.9zM169.6 48.57H183.3V56.11H169.6zM251.8 56.11H265.5V63.64H251.8zM292.9 56.11H306.6V63.64H292.9zM375.1 56.11H388.8V63.64H375.1zM251.8 63.64H265.5V71.18H251.8zM375.1 63.64H388.8V71.18H375.1zM292.9 71.18H306.6V78.71H292.9zM457.3 78.71H471V86.25H457.3zM251.8 93.78H265.5V101.32H251.8zM471 93.78H484.7V101.32H471zM251.8 101.32H265.5V108.85H251.8zM484.7 101.32H498.4V108.85H484.7zM251.8 108.85H265.5V116.39H251.8zM471 108.85H484.7V116.39H471zM484.7 116.39H498.4V123.92H484.7zM471 123.92H484.7V131.46H471zM224.4 138.99H238.1V146.53H224.4zM251.8 138.99H265.5V146.53H251.8zM471 138.99H484.7V146.53H471zM471 146.53H498.4V154.06H471zM471 154.06H484.7V161.6H471zM224.4 169.13H238.1V176.67H224.4zM251.8 169.13H265.5V176.67H251.8zM471 169.13H484.7V176.67H471zM210.7 176.67H224.4V184.2H210.7zM416.2 221.88H429.9V229.41H416.2zM457.3 221.88H471V229.41H457.3zM238.1 229.41H251.8V236.95H238.1zM388.8 229.41H402.5V236.95H388.8zM416.2 229.41H429.9V236.95H416.2zM457.3 229.41H471V236.95H457.3zM265.5 236.95H279.2V244.48H265.5zM388.8 244.48H402.5V252.02H388.8zM292.9 274.62H306.6V282.16H292.9zM388.8 282.16H402.5V289.69H388.8zM416.2 289.69H429.9V297.23H416.2zM484.7 289.69H498.4V297.23H484.7zM484.7 304.76H498.4V312.3H484.7zM484.7 319.83H498.4V327.37H484.7zM361.4 334.9H375.1V342.44H361.4zM320.3 349.97H334V357.51H320.3zM471 349.97H484.7V357.51H471zM484.7 357.51H498.4V365.04H484.7zM320.3 365.04H334V372.58H320.3zM320.3 402.72H334V410.25H320.3zM443.6 410.25H457.3V417.79H443.6zM210.7 417.79H224.4V425.32H210.7zM320.3 425.32H334V432.86H320.3zM155.9 440.39H169.6V447.93H155.9zM292.9 470.53H306.6V478.07H292.9zM320.3 470.53H334V478.07H320.3zM484.7 470.53H498.4V478.07H484.7zM320.3 478.07H334V485.6H320.3zM210.7 485.6H224.4V493.08H210.7zM238.1 493.08H251.8V500.57H238.1zM484.7 493.08H498.4V500.57H484.7zM238.1 500.57H251.8V508.05H238.1zM361.4 500.57H375.1V508.05H361.4zM320.3 508.05H334V515.54H320.3zM265.5 515.54H279.2V523.02H265.5zM183.3 575.41H197V582.89H183.3zM306.6 575.41H320.3V582.89H306.6zM306.6 582.89H320.3V590.38H306.6zM238.1 590.38H251.8V597.86H238.1zM265.5 590.38H279.2V597.86H265.5zM416.2 590.38H429.9V597.86H416.2zM484.7 590.38H498.4V597.86H484.7zM155.9 597.86H169.6V605.34H155.9zM183.3 612.83H197V620.31H183.3zM484.7 612.83H498.4V620.31H484.7zM457.3 642.77H471V650.25H457.3zM347.7 650.25H361.4V657.73H347.7zM388.8 650.25H402.5V657.73H388.8zM416.2 650.25H429.9V657.73H416.2zM251.8 657.73H265.5V665.22H251.8zM306.6 657.73H320.3V665.22H306.6zM416.2 657.73H429.9V665.22H416.2zM457.3 657.73H471V665.22H457.3zM210.7 665.22H224.4V672.7H210.7zM238.1 665.22H251.8V672.7H238.1zM265.5 665.22H279.2V672.7H265.5zM347.7 665.22H361.4V672.7H347.7zM457.3 665.22H471V672.7H457.3zM416.2 672.7H429.9V680.19H416.2zM457.3 672.7H471V680.19H457.3zM265.5 680.19H279.2V687.67H265.5zM388.8 680.19H402.5V687.67H388.8zM416.2 680.19H443.6V687.67H416.2zM210.7 687.67H224.4V695.15H210.7zM429.9 687.67H443.6V695.15H429.9zM457.3 687.67H471V695.15H457.3zM224.4 695.15H238.1V702.64H224.4zM265.5 695.15H279.2V702.64H265.5zM388.8 695.15H402.5V702.64H388.8zM224.4 702.64H238.1V710.12H224.4zM224.4 710.12H251.8V717.61H224.4zM429.9 710.12H443.6V717.61H429.9zM224.4 725.09H238.1V732.57H224.4zM224.4 732.57H238.1V740.06H224.4zM457.3 732.57H471V740.06H457.3zM251.8 740.06H265.5V747.54H251.8zM471 740.06H498.4V747.54H471zM210.7 747.54H224.4V755.03H210.7zM292.9 747.54H306.6V755.03H292.9zM251.8 755.03H279.2V762.51H251.8zM388.8 755.03H402.5V762.51H388.8zM457.3 755.03H471V762.51H457.3zM361.4 769.99H375.1V777.48H361.4zM416.2 769.99H429.9V777.48H416.2zM471 777.48H498.4V784.96H471zM224.4 792.45H238.1V799.93H224.4zM251.8 792.45H265.5V799.93H251.8zM292.9 792.45H306.6V799.93H292.9zM183.3 799.93H197V807.41H183.3zM306.6 799.93H334V807.41H306.6zM361.4 799.93H375.1V807.41H361.4zM484.7 799.93H498.4V807.41H484.7zM457.3 814.9H484.7V822.38H457.3zM320.3 822.38H334V829.87H320.3zM471 822.38H484.7V829.87H471zM471 829.87H484.7V837.35H471zM429.9 837.35H443.6V844.83H429.9zM320.3 844.83H334V852.32H320.3zM361.4 844.83H375.1V852.32H361.4zM155.9 852.32H169.6V859.8H155.9zM279.2 867.29H292.9V874.77H279.2zM471 867.29H484.7V874.77H471zM224.4 874.77H238.1V882.26H224.4zM429.9 874.77H443.6V882.26H429.9zM484.7 874.77H498.4V882.26H484.7zM292.9 882.26H306.6V889.74H292.9zM197 889.74H210.7V897.22H197zM484.7 889.74H498.4V897.22H484.7zM416.2 897.22H429.9V904.71H416.2zM457.3 897.22H471V904.71H457.3zM251.8 904.71H265.5V912.19H251.8zM292.9 912.19H320.3V919.68H292.9zM238.1 942.13H265.5V949.61H238.1zM224.4 964.58H238.1V972.06H224.4zM306.6 964.58H320.3V972.06H306.6zM429.9 964.58H443.6V972.06H429.9zM251.8 972.06H265.5V979.55H251.8zM471 972.06H498.4V979.55H471zM429.9 979.55H443.6V987.03H429.9zM224.4 987.03H238.1V994.52H224.4zM155.9 994.52H169.6V1002H155.9zM224.4 994.52H238.1V1002H224.4zM251.8 994.52H265.5V1002H251.8zM224.4 1002H238.1V1009.44H224.4zM457.3 1002H471V1009.44H457.3zM197 1009.44H210.7V1016.87H197zM306.6 1016.87H320.3V1024.31H306.6zM334 1016.87H347.7V1024.31H334zM388.8 1016.87H402.5V1024.31H388.8zM306.6 1024.31H320.3V1031.75H306.6zM416.2 1031.75H429.9V1039.19H416.2zM306.6 1039.19H320.3V1046.62H306.6zM183.3 1046.62H197V1054.06H183.3zM471 1054.06H484.7V1061.5H471zM292.9 1061.5H320.3V1068.93H292.9zM292.9 1068.93H306.6V1076.37H292.9zM251.8 1076.37H265.5V1083.81H251.8zM375.1 1076.37H388.8V1083.81H375.1zM306.6 1091.25H320.3V1098.68H306.6zM361.4 1091.25H375.1V1098.68H361.4zM416.2 1098.68H429.9V1106.12H416.2zM210.7 1106.12H224.4V1113.56H210.7zM251.8 1106.12H265.5V1113.56H251.8zM375.1 1106.12H402.5V1113.56H375.1zM292.9 1113.56H306.6V1120.99H292.9zM361.4 1113.56H375.1V1120.99H361.4zM388.8 1113.56H402.5V1120.99H388.8zM238.1 1120.99H251.8V1128.43H238.1zM361.4 1128.43H375.1V1135.87H361.4zM457.3 1135.87H471V1143.31H457.3zM210.7 1143.31H224.4V1150.74H210.7zM457.3 1143.31H471V1150.74H457.3zM484.7 1143.31H498.4V1150.74H484.7zM197 1150.74H210.7V1158.18H197zM361.4 1150.74H375.1V1158.18H361.4zM443.6 1150.74H457.3V1158.18H443.6zM197 1158.18H210.7V1165.62H197zM306.6 1158.18H320.3V1165.62H306.6zM471 1158.18H484.7V1165.62H471zM197 1165.62H210.7V1173.05H197zM306.6 1165.62H320.3V1173.05H306.6zM306.6 1173.05H320.3V1180.49H306.6zM306.6 1195.37H320.3V1202.8H306.6zM320.3 1202.8H334V1210.24H320.3zM361.4 1202.8H375.1V1210.24H361.4zM443.6 1225.11H457.3V1232.55H443.6zM224.4 1232.55H238.1V1239.99H224.4zM251.8 1239.99H265.5V1247.43H251.8zM292.9 1254.86H306.6V1262.3H292.9z"/><path fill="#f1bdc3" d="M334 41.04H347.7V48.57H334zM306.6 48.57H320.3V56.11H306.6zM334 48.57H347.7V56.11H334zM292.9 63.64H306.6V71.18H292.9zM484.7 93.78H498.4V101.32H484.7zM292.9 169.13H306.6V176.67H292.9zM224.4 176.67H238.1V184.2H224.4zM416.2 184.2H429.9V191.74H416.2zM457.3 199.27H471V206.81H457.3zM238.1 221.88H251.8V229.41H238.1zM265.5 221.88H279.2V229.41H265.5zM388.8 236.95H402.5V244.48H388.8zM457.3 236.95H471V244.48H457.3zM416.2 244.48H429.9V252.02H416.2zM457.3 244.48H471V252.02H457.3zM265.5 252.02H279.2V259.55H265.5zM416.2 252.02H429.9V259.55H416.2zM416.2 274.62H429.9V282.16H416.2zM457.3 274.62H471V282.16H457.3zM416.2 282.16H429.9V289.69H416.2zM457.3 282.16H471V289.69H457.3zM457.3 289.69H471V297.23H457.3zM484.7 297.23H498.4V304.76H484.7zM484.7 327.37H498.4V334.9H484.7zM251.8 334.9H265.5V342.44H251.8zM155.9 349.97H169.6V357.51H155.9zM484.7 349.97H498.4V357.51H484.7zM484.7 410.25H498.4V417.79H484.7zM484.7 417.79H498.4V425.32H484.7zM292.9 447.93H306.6V455.46H292.9zM361.4 470.53H375.1V478.07H361.4zM238.1 485.6H251.8V493.08H238.1zM210.7 493.08H224.4V500.57H210.7zM210.7 500.57H224.4V508.05H210.7zM265.5 500.57H279.2V508.05H265.5zM429.9 515.54H443.6V523.02H429.9zM155.9 545.47H169.6V552.96H155.9zM251.8 545.47H265.5V552.96H251.8zM292.9 552.96H306.6V560.44H292.9zM484.7 567.92H498.4V575.41H484.7zM484.7 582.89H498.4V590.38H484.7zM484.7 597.86H498.4V605.34H484.7zM484.7 605.34H498.4V612.83H484.7zM429.9 635.28H443.6V642.77H429.9zM238.1 687.67H251.8V695.15H238.1zM265.5 687.67H279.2V695.15H265.5zM251.8 695.15H265.5V702.64H251.8zM238.1 702.64H279.2V710.12H238.1zM251.8 710.12H279.2V717.61H251.8zM210.7 717.61H224.4V725.09H210.7zM238.1 717.61H251.8V725.09H238.1zM265.5 717.61H279.2V725.09H265.5zM210.7 725.09H224.4V732.57H210.7zM238.1 725.09H251.8V732.57H238.1zM265.5 725.09H279.2V732.57H265.5zM457.3 725.09H471V732.57H457.3zM197 732.57H224.4V740.06H197zM238.1 732.57H251.8V740.06H238.1zM265.5 732.57H279.2V740.06H265.5zM238.1 740.06H251.8V747.54H238.1zM265.5 740.06H279.2V747.54H265.5zM265.5 747.54H279.2V755.03H265.5zM484.7 747.54H498.4V755.03H484.7zM210.7 762.51H224.4V769.99H210.7zM484.7 762.51H498.4V769.99H484.7zM484.7 814.9H498.4V822.38H484.7zM471 837.35H484.7V844.83H471zM429.9 897.22H457.3V904.71H429.9zM471 897.22H484.7V904.71H471zM251.8 912.19H265.5V919.68H251.8zM484.7 919.68H498.4V927.16H484.7zM224.4 934.64H238.1V942.13H224.4zM251.8 934.64H265.5V942.13H251.8zM429.9 942.13H443.6V949.61H429.9zM471 942.13H484.7V949.61H471zM429.9 949.61H443.6V957.1H429.9zM471 949.61H484.7V957.1H471zM251.8 964.58H265.5V972.06H251.8zM224.4 979.55H238.1V987.03H224.4zM251.8 979.55H265.5V987.03H251.8zM279.2 979.55H292.9V987.03H279.2zM155.9 987.03H169.6V994.52H155.9zM251.8 987.03H265.5V994.52H251.8zM443.6 1068.93H457.3V1076.37H443.6zM292.9 1076.37H306.6V1083.81H292.9zM292.9 1083.81H306.6V1091.25H292.9zM292.9 1091.25H306.6V1098.68H292.9zM292.9 1098.68H306.6V1106.12H292.9zM210.7 1113.56H224.4V1120.99H210.7zM210.7 1128.43H224.4V1135.87H210.7zM388.8 1128.43H402.5V1135.87H388.8zM388.8 1135.87H402.5V1143.31H388.8zM388.8 1143.31H402.5V1150.74H388.8zM443.6 1158.18H457.3V1165.62H443.6zM443.6 1173.05H457.3V1180.49H443.6zM484.7 1202.8H498.4V1210.24H484.7zM320.3 1210.24H334V1217.68H320.3zM361.4 1210.24H375.1V1217.68H361.4zM484.7 1210.24H498.4V1217.68H484.7zM306.6 1232.55H320.3V1239.99H306.6zM457.3 1247.43H471V1254.86H457.3z"/><path fill="#e25c5e" d="M279.2 71.18H292.9V78.71H279.2zM292.9 78.71H306.6V86.25H292.9zM388.8 176.67H402.5V184.2H388.8zM388.8 184.2H402.5V191.74H388.8zM388.8 191.74H402.5V199.27H388.8zM457.3 191.74H471V199.27H457.3zM388.8 199.27H402.5V206.81H388.8zM457.3 252.02H471V259.55H457.3zM416.2 259.55H429.9V267.09H416.2zM457.3 259.55H471V267.09H457.3zM416.2 267.09H429.9V274.62H416.2zM457.3 267.09H471V274.62H457.3zM457.3 297.23H471V304.76H457.3zM484.7 312.3H498.4V319.83H484.7zM484.7 334.9H498.4V342.44H484.7zM484.7 342.44H498.4V349.97H484.7zM155.9 357.51H169.6V365.04H155.9zM484.7 365.04H498.4V372.58H484.7zM484.7 425.32H498.4V432.86H484.7zM484.7 432.86H498.4V440.39H484.7zM361.4 440.39H375.1V447.93H361.4zM361.4 447.93H375.1V455.46H361.4zM361.4 478.07H375.1V485.6H361.4zM265.5 485.6H279.2V493.08H265.5zM265.5 508.05H279.2V515.54H265.5zM169.6 515.54H183.3V523.02H169.6zM155.9 552.96H169.6V560.44H155.9zM484.7 620.31H498.4V627.8H484.7zM402.5 635.28H416.2V642.77H402.5zM457.3 650.25H471V657.73H457.3zM484.7 755.03H498.4V762.51H484.7zM306.6 792.45H320.3V799.93H306.6zM484.7 822.38H498.4V829.87H484.7zM484.7 829.87H498.4V837.35H484.7zM484.7 837.35H498.4V844.83H484.7zM484.7 859.8H498.4V867.29H484.7zM484.7 867.29H498.4V874.77H484.7zM155.9 874.77H169.6V882.26H155.9zM471 904.71H484.7V912.19H471zM471 912.19H484.7V919.68H471zM471 934.64H484.7V942.13H471zM429.9 957.1H443.6V964.58H429.9zM471 957.1H484.7V964.58H471zM292.9 1046.62H306.6V1054.06H292.9zM375.1 1068.93H388.8V1076.37H375.1zM155.9 1083.81H169.6V1091.25H155.9zM251.8 1091.25H265.5V1098.68H251.8zM484.7 1135.87H498.4V1143.31H484.7zM443.6 1165.62H457.3V1173.05H443.6zM320.3 1180.49H334V1187.93H320.3zM484.7 1180.49H498.4V1187.93H484.7zM361.4 1195.37H375.1V1202.8H361.4z"/><path fill="#d62422" d="M292.9 86.25H306.6V93.78H292.9zM416.2 206.81H429.9V214.34H416.2zM416.2 214.34H429.9V221.88H416.2zM484.7 372.58H498.4V380.11H484.7zM484.7 380.11H498.4V387.65H484.7zM484.7 387.65H498.4V395.18H484.7zM484.7 395.18H498.4V402.72H484.7zM484.7 402.72H498.4V410.25H484.7zM361.4 455.46H375.1V463H361.4zM361.4 463H375.1V470.53H361.4zM155.9 560.44H169.6V567.92H155.9zM484.7 627.8H498.4V635.28H484.7zM416.2 642.77H429.9V650.25H416.2zM292.9 784.96H306.6V792.45H292.9zM361.4 807.41H375.1V814.9H361.4zM484.7 844.83H498.4V852.32H484.7zM484.7 852.32H498.4V859.8H484.7zM155.9 882.26H169.6V889.74H155.9zM155.9 889.74H169.6V897.22H155.9zM471 919.68H484.7V927.16H471zM471 927.16H484.7V934.64H471zM197 1002H210.7V1009.44H197zM210.7 1009.44H224.4V1016.87H210.7zM484.7 1187.93H498.4V1195.37H484.7zM210.7 1217.68H224.4V1225.11H210.7zM292.9 1225.11H306.6V1232.55H292.9z"/><path fill="none" stroke="#3c4560" stroke-width="0.85" stroke-opacity="0.95" d="M155.9 10.9V1262.3M169.6 10.9V1262.3M183.3 10.9V1262.3M197 10.9V1262.3M210.7 10.9V1262.3M224.4 10.9V1262.3M238.1 10.9V1262.3M251.8 10.9V1262.3M265.5 10.9V1262.3M279.2 10.9V1262.3M292.9 10.9V1262.3M306.6 10.9V1262.3M320.3 10.9V1262.3M334 10.9V1262.3M347.7 10.9V1262.3M361.4 10.9V1262.3M375.1 10.9V1262.3M388.8 10.9V1262.3M402.5 10.9V1262.3M416.2 10.9V1262.3M429.9 10.9V1262.3M443.6 10.9V1262.3M457.3 10.9V1262.3M471 10.9V1262.3M484.7 10.9V1262.3M498.4 10.9V1262.3"/><path fill="none" stroke="#46506a" stroke-width="0.8" stroke-opacity="0.8" d="M155.9 10.9H498.4M155.9 18.43H498.4M155.9 25.97H498.4M155.9 33.5H498.4M155.9 41.04H498.4M155.9 48.57H498.4M155.9 56.11H498.4M155.9 63.64H498.4M155.9 71.18H498.4M155.9 78.71H498.4M155.9 86.25H498.4M155.9 93.78H498.4M155.9 101.32H498.4M155.9 108.85H498.4M155.9 116.39H498.4M155.9 123.92H498.4M155.9 131.46H498.4M155.9 138.99H498.4M155.9 146.53H498.4M155.9 154.06H498.4M155.9 161.6H498.4M155.9 169.13H498.4M155.9 176.67H498.4M155.9 184.2H498.4M155.9 191.74H498.4M155.9 199.27H498.4M155.9 206.81H498.4M155.9 214.34H498.4M155.9 221.88H498.4M155.9 229.41H498.4M155.9 236.95H498.4M155.9 244.48H498.4M155.9 252.02H498.4M155.9 259.55H498.4M155.9 267.09H498.4M155.9 274.62H498.4M155.9 282.16H498.4M155.9 289.69H498.4M155.9 297.23H498.4M155.9 304.76H498.4M155.9 312.3H498.4M155.9 319.83H498.4M155.9 327.37H498.4M155.9 334.9H498.4M155.9 342.44H498.4M155.9 349.97H498.4M155.9 357.51H498.4M155.9 365.04H498.4M155.9 372.58H498.4M155.9 380.11H498.4M155.9 387.65H498.4M155.9 395.18H498.4M155.9 402.72H498.4M155.9 410.25H498.4M155.9 417.79H498.4M155.9 425.32H498.4M155.9 432.86H498.4M155.9 440.39H498.4M155.9 447.93H498.4M155.9 455.46H498.4M155.9 463H498.4M155.9 470.53H498.4M155.9 478.07H498.4M155.9 485.6H498.4M155.9 493.08H498.4M155.9 500.57H498.4M155.9 508.05H498.4M155.9 515.54H498.4M155.9 523.02H498.4M155.9 530.5H498.4M155.9 537.99H498.4M155.9 545.47H498.4M155.9 552.96H498.4M155.9 560.44H498.4M155.9 567.92H498.4M155.9 575.41H498.4M155.9 582.89H498.4M155.9 590.38H498.4M155.9 597.86H498.4M155.9 605.34H498.4M155.9 612.83H498.4M155.9 620.31H498.4M155.9 627.8H498.4M155.9 635.28H498.4M155.9 642.77H498.4M155.9 650.25H498.4M155.9 657.73H498.4M155.9 665.22H498.4M155.9 672.7H498.4M155.9 680.19H498.4M155.9 687.67H498.4M155.9 695.15H498.4M155.9 702.64H498.4M155.9 710.12H498.4M155.9 717.61H498.4M155.9 725.09H498.4M155.9 732.57H498.4M155.9 740.06H498.4M155.9 747.54H498.4M155.9 755.03H498.4M155.9 762.51H498.4M155.9 769.99H498.4M155.9 777.48H498.4M155.9 784.96H498.4M155.9 792.45H498.4M155.9 799.93H498.4M155.9 807.41H498.4M155.9 814.9H498.4M155.9 822.38H498.4M155.9 829.87H498.4M155.9 837.35H498.4M155.9 844.83H498.4M155.9 852.32H498.4M155.9 859.8H498.4M155.9 867.29H498.4M155.9 874.77H498.4M155.9 882.26H498.4M155.9 889.74H498.4M155.9 897.22H498.4M155.9 904.71H498.4M155.9 912.19H498.4M155.9 919.68H498.4M155.9 927.16H498.4M155.9 934.64H498.4M155.9 942.13H498.4M155.9 949.61H498.4M155.9 957.1H498.4M155.9 964.58H498.4M155.9 972.06H498.4M155.9 979.55H498.4M155.9 987.03H498.4M155.9 994.52H498.4M155.9 1002H498.4M155.9 1009.44H498.4M155.9 1016.87H498.4M155.9 1024.31H498.4M155.9 1031.75H498.4M155.9 1039.19H498.4M155.9 1046.62H498.4M155.9 1054.06H498.4M155.9 1061.5H498.4M155.9 1068.93H498.4M155.9 1076.37H498.4M155.9 1083.81H498.4M155.9 1091.25H498.4M155.9 1098.68H498.4M155.9 1106.12H498.4M155.9 1113.56H498.4M155.9 1120.99H498.4M155.9 1128.43H498.4M155.9 1135.87H498.4M155.9 1143.31H498.4M155.9 1150.74H498.4M155.9 1158.18H498.4M155.9 1165.62H498.4M155.9 1173.05H498.4M155.9 1180.49H498.4M155.9 1187.93H498.4M155.9 1195.37H498.4M155.9 1202.8H498.4M155.9 1210.24H498.4M155.9 1217.68H498.4M155.9 1225.11H498.4M155.9 1232.55H498.4M155.9 1239.99H498.4M155.9 1247.43H498.4M155.9 1254.86H498.4M155.9 1262.3H498.4"/><path fill="none" stroke="#8c8c8c" stroke-width="1" d="M127.54 22.2V29.74M127.54 22.2H155.9M127.54 29.74H155.9M122.73 14.67V25.97M122.73 14.67H155.9M122.73 25.97H127.54M127.54 44.81V52.34M127.54 44.81H155.9M127.54 52.34H155.9M122.73 37.27V48.57M122.73 37.27H155.9M122.73 48.57H127.54M117.92 20.32V42.92M117.92 20.32H122.73M117.92 42.92H122.73M122.73 59.88V67.41M122.73 59.88H155.9M122.73 67.41H155.9M127.54 82.48V90.02M127.54 82.48H155.9M127.54 90.02H155.9M122.73 74.95V86.25M122.73 74.95H155.9M122.73 86.25H127.54M117.92 63.64V80.6M117.92 63.64H122.73M117.92 80.6H122.73M113.11 31.62V72.12M113.11 31.62H117.92M113.11 72.12H117.92M132.35 97.55V105.09M132.35 97.55H155.9M132.35 105.09H155.9M146.78 127.69V135.23M146.78 127.69H155.9M146.78 135.23H155.9M141.97 120.16V131.46M141.97 120.16H155.9M141.97 131.46H146.78M137.16 112.62V125.81M137.16 112.62H155.9M137.16 125.81H141.97M141.97 150.3V157.83M141.97 150.3H155.9M141.97 157.83H155.9M137.16 142.76V154.06M137.16 142.76H155.9M137.16 154.06H141.97M132.35 119.21V148.41M132.35 119.21H137.16M132.35 148.41H137.16M127.54 101.32V133.81M127.54 101.32H132.35M127.54 133.81H132.35M127.54 165.37V172.9M127.54 165.37H155.9M127.54 172.9H155.9M122.73 117.57V169.13M122.73 117.57H127.54M122.73 169.13H127.54M137.16 195.51V203.04M137.16 195.51H155.9M137.16 203.04H155.9M132.35 187.97V199.27M132.35 187.97H155.9M132.35 199.27H137.16M127.54 180.44V193.62M127.54 180.44H155.9M127.54 193.62H132.35M132.35 210.58V218.11M132.35 210.58H155.9M132.35 218.11H155.9M146.78 240.72V248.25M146.78 240.72H155.9M146.78 248.25H155.9M141.97 233.18V244.48M141.97 233.18H155.9M141.97 244.48H146.78M137.16 225.65V238.83M137.16 225.65H155.9M137.16 238.83H141.97M146.78 263.32V270.85M146.78 263.32H155.9M146.78 270.85H155.9M141.97 255.78V267.09M141.97 255.78H155.9M141.97 267.09H146.78M151.59 293.46V300.99M151.59 293.46H155.9M151.59 300.99H155.9M146.78 285.92V297.23M146.78 285.92H155.9M146.78 297.23H151.59M141.97 278.39V291.58M141.97 278.39H155.9M141.97 291.58H146.78M137.16 261.44V284.98M137.16 261.44H141.97M137.16 284.98H141.97M132.35 232.24V273.21M132.35 232.24H137.16M132.35 273.21H137.16M127.54 214.34V252.72M127.54 214.34H132.35M127.54 252.72H132.35M122.73 187.03V233.53M122.73 187.03H127.54M122.73 233.53H127.54M117.92 143.35V210.28M117.92 143.35H122.73M117.92 210.28H122.73M132.35 316.06V323.6M132.35 316.06H155.9M132.35 323.6H155.9M127.54 308.53V319.83M127.54 308.53H155.9M127.54 319.83H132.35M137.16 338.67V346.2M137.16 338.67H155.9M137.16 346.2H155.9M132.35 331.13V342.44M132.35 331.13H155.9M132.35 342.44H137.16M137.16 353.74V361.27M137.16 353.74H155.9M137.16 361.27H155.9M151.59 383.88V391.41M151.59 383.88H155.9M151.59 391.41H155.9M151.59 398.95V406.48M151.59 398.95H155.9M151.59 406.48H155.9M146.78 387.65V402.72M146.78 387.65H151.59M146.78 402.72H151.59M141.97 376.34V395.18M141.97 376.34H155.9M141.97 395.18H146.78M137.16 368.81V385.76M137.16 368.81H155.9M137.16 385.76H141.97M132.35 357.51V377.29M132.35 357.51H137.16M132.35 377.29H137.16M127.54 336.79V367.4M127.54 336.79H132.35M127.54 367.4H132.35M122.73 314.18V352.09M122.73 314.18H127.54M122.73 352.09H127.54M137.16 414.02V421.55M137.16 414.02H155.9M137.16 421.55H155.9M137.16 429.09V436.62M137.16 429.09H155.9M137.16 436.62H155.9M132.35 417.79V432.86M132.35 417.79H137.16M132.35 432.86H137.16M146.78 459.23V466.76M146.78 459.23H155.9M146.78 466.76H155.9M141.97 451.69V463M141.97 451.69H155.9M141.97 463H146.78M137.16 444.16V457.34M137.16 444.16H155.9M137.16 457.34H141.97M137.16 474.3V481.83M137.16 474.3H155.9M137.16 481.83H155.9M132.35 450.75V478.07M132.35 450.75H137.16M132.35 478.07H137.16M127.54 425.32V464.41M127.54 425.32H132.35M127.54 464.41H132.35M141.97 496.83V504.31M141.97 496.83H155.9M141.97 504.31H155.9M137.16 489.34V500.57M137.16 489.34H155.9M137.16 500.57H141.97M151.59 534.25V541.73M151.59 534.25H155.9M151.59 541.73H155.9M146.78 526.76V537.99M146.78 526.76H155.9M146.78 537.99H151.59M141.97 519.28V532.38M141.97 519.28H155.9M141.97 532.38H146.78M137.16 511.79V525.83M137.16 511.79H155.9M137.16 525.83H141.97M132.35 494.96V518.81M132.35 494.96H137.16M132.35 518.81H137.16M141.97 556.7V564.18M141.97 556.7H155.9M141.97 564.18H155.9M137.16 549.21V560.44M137.16 549.21H155.9M137.16 560.44H141.97M146.78 579.15V586.63M146.78 579.15H155.9M146.78 586.63H155.9M141.97 571.67V582.89M141.97 571.67H155.9M141.97 582.89H146.78M151.59 601.6V609.09M151.59 601.6H155.9M151.59 609.09H155.9M146.78 594.12V605.34M146.78 594.12H155.9M146.78 605.34H151.59M151.59 624.06V631.54M151.59 624.06H155.9M151.59 631.54H155.9M146.78 616.57V627.8M146.78 616.57H155.9M146.78 627.8H151.59M141.97 599.73V622.18M141.97 599.73H146.78M141.97 622.18H146.78M137.16 577.28V610.96M137.16 577.28H141.97M137.16 610.96H141.97M132.35 554.83V594.12M132.35 554.83H137.16M132.35 594.12H137.16M127.54 506.88V574.47M127.54 506.88H132.35M127.54 574.47H132.35M122.73 444.86V540.68M122.73 444.86H127.54M122.73 540.68H127.54M117.92 333.14V492.77M117.92 333.14H122.73M117.92 492.77H122.73M113.11 176.82V412.95M113.11 176.82H117.92M113.11 412.95H117.92M108.3 51.87V294.88M108.3 51.87H113.11M108.3 294.88H113.11M127.54 646.51V653.99M127.54 646.51H155.9M127.54 653.99H155.9M132.35 668.96V676.44M132.35 668.96H155.9M132.35 676.44H155.9M127.54 661.48V672.7M127.54 661.48H155.9M127.54 672.7H132.35M122.73 650.25V667.09M122.73 650.25H127.54M122.73 667.09H127.54M117.92 639.02V658.67M117.92 639.02H155.9M117.92 658.67H122.73M132.35 683.93V691.41M132.35 683.93H155.9M132.35 691.41H155.9M141.97 706.38V713.86M141.97 706.38H155.9M141.97 713.86H155.9M137.16 698.9V710.12M137.16 698.9H155.9M137.16 710.12H141.97M141.97 728.83V736.32M141.97 728.83H155.9M141.97 736.32H155.9M137.16 721.35V732.57M137.16 721.35H155.9M137.16 732.57H141.97M132.35 704.51V726.96M132.35 704.51H137.16M132.35 726.96H137.16M127.54 687.67V715.73M127.54 687.67H132.35M127.54 715.73H132.35M137.16 758.77V766.25M137.16 758.77H155.9M137.16 766.25H155.9M132.35 751.28V762.51M132.35 751.28H155.9M132.35 762.51H137.16M127.54 743.8V756.9M127.54 743.8H155.9M127.54 756.9H132.35M122.73 701.7V750.35M122.73 701.7H127.54M122.73 750.35H127.54M127.54 773.74V781.22M127.54 773.74H155.9M127.54 781.22H155.9M127.54 788.7V796.19M127.54 788.7H155.9M127.54 796.19H155.9M122.73 777.48V792.45M122.73 777.48H127.54M122.73 792.45H127.54M117.92 726.03V784.96M117.92 726.03H122.73M117.92 784.96H122.73M113.11 648.85V755.49M113.11 648.85H117.92M113.11 755.49H117.92M122.73 803.67V811.16M122.73 803.67H155.9M122.73 811.16H155.9M137.16 833.61V841.09M137.16 833.61H155.9M137.16 841.09H155.9M132.35 826.12V837.35M132.35 826.12H155.9M132.35 837.35H137.16M127.54 818.64V831.74M127.54 818.64H155.9M127.54 831.74H132.35M132.35 848.58V856.06M132.35 848.58H155.9M132.35 856.06H155.9M132.35 863.54V871.03M132.35 863.54H155.9M132.35 871.03H155.9M127.54 852.32V867.29M127.54 852.32H132.35M127.54 867.29H132.35M122.73 825.19V859.8M122.73 825.19H127.54M122.73 859.8H127.54M117.92 807.41V842.5M117.92 807.41H122.73M117.92 842.5H122.73M127.54 886V893.48M127.54 886H155.9M127.54 893.48H155.9M122.73 878.51V889.74M122.73 878.51H155.9M122.73 889.74H127.54M137.16 908.45V915.93M137.16 908.45H155.9M137.16 915.93H155.9M141.97 923.42V930.9M141.97 923.42H155.9M141.97 930.9H155.9M151.59 953.35V960.84M151.59 953.35H155.9M151.59 960.84H155.9M146.78 945.87V957.1M146.78 945.87H155.9M146.78 957.1H151.59M141.97 938.39V951.48M141.97 938.39H155.9M141.97 951.48H146.78M137.16 927.16V944.93M137.16 927.16H141.97M137.16 944.93H141.97M132.35 912.19V936.05M132.35 912.19H137.16M132.35 936.05H137.16M127.54 900.97V924.12M127.54 900.97H155.9M127.54 924.12H132.35M137.16 968.32V975.81M137.16 968.32H155.9M137.16 975.81H155.9M141.97 990.77V998.26M141.97 990.77H155.9M141.97 998.26H155.9M137.16 983.29V994.52M137.16 983.29H155.9M137.16 994.52H141.97M132.35 972.06V988.9M132.35 972.06H137.16M132.35 988.9H137.16M132.35 1005.72V1013.16M132.35 1005.72H155.9M132.35 1013.16H155.9M127.54 980.48V1009.44M127.54 980.48H132.35M127.54 1009.44H132.35M122.73 912.54V994.96M122.73 912.54H127.54M122.73 994.96H127.54M117.92 884.13V953.75M117.92 884.13H122.73M117.92 953.75H122.73M113.11 824.96V918.94M113.11 824.96H117.92M113.11 918.94H117.92M108.3 702.17V871.95M108.3 702.17H113.11M108.3 871.95H113.11M133.46 1028.03V1035.47M133.46 1028.03H155.9M133.46 1035.47H155.9M125.94 1020.59V1031.75M125.94 1020.59H155.9M125.94 1031.75H133.46M148.5 1057.78V1065.22M148.5 1057.78H155.9M148.5 1065.22H155.9M140.98 1050.34V1061.5M140.98 1050.34H155.9M140.98 1061.5H148.5M133.46 1042.9V1055.92M133.46 1042.9H155.9M133.46 1055.92H140.98M140.98 1072.65V1080.09M140.98 1072.65H155.9M140.98 1080.09H155.9M140.98 1087.53V1094.96M140.98 1087.53H155.9M140.98 1094.96H155.9M133.46 1076.37V1091.25M133.46 1076.37H140.98M133.46 1091.25H140.98M125.94 1049.41V1083.81M125.94 1049.41H133.46M125.94 1083.81H133.46M118.42 1026.17V1066.61M118.42 1026.17H125.94M118.42 1066.61H125.94M140.98 1109.84V1117.28M140.98 1109.84H155.9M140.98 1117.28H155.9M133.46 1102.4V1113.56M133.46 1102.4H155.9M133.46 1113.56H140.98M148.5 1139.59V1147.02M148.5 1139.59H155.9M148.5 1147.02H155.9M140.98 1132.15V1143.31M140.98 1132.15H155.9M140.98 1143.31H148.5M133.46 1124.71V1137.73M133.46 1124.71H155.9M133.46 1137.73H140.98M125.94 1107.98V1131.22M125.94 1107.98H133.46M125.94 1131.22H133.46M148.5 1169.34V1176.77M148.5 1169.34H155.9M148.5 1176.77H155.9M140.98 1161.9V1173.05M140.98 1161.9H155.9M140.98 1173.05H148.5M133.46 1154.46V1167.48M133.46 1154.46H155.9M133.46 1167.48H140.98M140.98 1184.21V1191.65M140.98 1184.21H155.9M140.98 1191.65H155.9M148.5 1206.52V1213.96M148.5 1206.52H155.9M148.5 1213.96H155.9M140.98 1199.08V1210.24M140.98 1199.08H155.9M140.98 1210.24H148.5M133.46 1187.93V1204.66M133.46 1187.93H140.98M133.46 1204.66H140.98M125.94 1160.97V1196.3M125.94 1160.97H133.46M125.94 1196.3H133.46M118.42 1119.6V1178.63M118.42 1119.6H125.94M118.42 1178.63H125.94M110.9 1046.39V1149.12M110.9 1046.39H118.42M110.9 1149.12H118.42M129.7 1221.4V1228.83M129.7 1221.4H155.9M129.7 1228.83H155.9M143.3 1236.27V1243.71M143.3 1236.27H155.9M143.3 1243.71H155.9M143.3 1251.14V1258.58M143.3 1251.14H155.9M143.3 1258.58H155.9M129.7 1239.99V1254.86M129.7 1239.99H143.3M129.7 1254.86H143.3M116.9 1225.11V1247.43M116.9 1225.11H129.7M116.9 1247.43H129.7"/><g font-family="Liberation Sans, Arial, sans-serif" font-size="7.8" stroke-width="0.2"><text x="502.6" y="17.67" fill="#000000" stroke="#000000">PgERF26</text><text x="502.6" y="25.2" fill="#000000" stroke="#000000">PgERF46</text><text x="502.6" y="32.74" fill="#000000" stroke="#000000">PgERF147</text><text x="502.6" y="40.27" fill="#c8384e" stroke="#c8384e">PgERF155</text><text x="502.6" y="47.81" fill="#000000" stroke="#000000">PgERF48</text><text x="502.6" y="55.34" fill="#000000" stroke="#000000">PgERF149</text><text x="502.6" y="62.88" fill="#000000" stroke="#000000">PgERF28</text><text x="502.6" y="70.41" fill="#000000" stroke="#000000">PgERF127</text><text x="502.6" y="77.95" fill="#000000" stroke="#000000">PgERF105</text><text x="502.6" y="85.48" fill="#000000" stroke="#000000">PgERF154</text><text x="502.6" y="93.02" fill="#000000" stroke="#000000">PgERF122</text><text x="502.6" y="100.55" fill="#000000" stroke="#000000">PgERF25</text><text x="502.6" y="108.09" fill="#000000" stroke="#000000">PgERF85</text><text x="502.6" y="115.62" fill="#000000" stroke="#000000">PgERF138</text><text x="502.6" y="123.16" fill="#000000" stroke="#000000">PgERF93</text><text x="502.6" y="130.69" fill="#000000" stroke="#000000">PgERF91</text><text x="502.6" y="138.23" fill="#000000" stroke="#000000">PgERF92</text><text x="502.6" y="145.76" fill="#000000" stroke="#000000">PgERF16</text><text x="502.6" y="153.3" fill="#000000" stroke="#000000">PgERF3</text><text x="502.6" y="160.83" fill="#000000" stroke="#000000">PgERF52</text><text x="502.6" y="168.37" fill="#000000" stroke="#000000">PgERF9</text><text x="502.6" y="175.9" fill="#000000" stroke="#000000">PgERF15</text><text x="502.6" y="183.44" fill="#000000" stroke="#000000">PgERF65</text><text x="502.6" y="190.97" fill="#000000" stroke="#000000">PgERF70</text><text x="502.6" y="198.51" fill="#000000" stroke="#000000">PgERF145</text><text x="502.6" y="206.04" fill="#000000" stroke="#000000">PgERF166</text><text x="502.6" y="213.58" fill="#000000" stroke="#000000">PgERF97</text><text x="502.6" y="221.11" fill="#000000" stroke="#000000">PgERF100</text><text x="502.6" y="228.65" fill="#000000" stroke="#000000">PgERF69</text><text x="502.6" y="236.18" fill="#000000" stroke="#000000">PgERF110</text><text x="502.6" y="243.72" fill="#000000" stroke="#000000">PgERF44</text><text x="502.6" y="251.25" fill="#000000" stroke="#000000">PgERF146</text><text x="502.6" y="258.78" fill="#000000" stroke="#000000">PgERF159</text><text x="502.6" y="266.32" fill="#000000" stroke="#000000">PgERF94</text><text x="502.6" y="273.85" fill="#000000" stroke="#000000">PgERF128</text><text x="502.6" y="281.39" fill="#000000" stroke="#000000">PgERF109</text><text x="502.6" y="288.92" fill="#000000" stroke="#000000">PgERF114</text><text x="502.6" y="296.46" fill="#000000" stroke="#000000">PgERF76</text><text x="502.6" y="303.99" fill="#000000" stroke="#000000">PgERF144</text><text x="502.6" y="311.53" fill="#000000" stroke="#000000">PgERF119</text><text x="502.6" y="319.06" fill="#000000" stroke="#000000">PgERF61</text><text x="502.6" y="326.6" fill="#000000" stroke="#000000">PgERF112</text><text x="502.6" y="334.13" fill="#000000" stroke="#000000">PgERF27</text><text x="502.6" y="341.67" fill="#000000" stroke="#000000">PgERF77</text><text x="502.6" y="349.2" fill="#000000" stroke="#000000">PgERF102</text><text x="502.6" y="356.74" fill="#000000" stroke="#000000">PgERF12</text><text x="502.6" y="364.27" fill="#000000" stroke="#000000">PgERF73</text><text x="502.6" y="371.81" fill="#000000" stroke="#000000">PgERF141</text><text x="502.6" y="379.34" fill="#000000" stroke="#000000">PgERF90</text><text x="502.6" y="386.88" fill="#000000" stroke="#000000">PgERF148</text><text x="502.6" y="394.41" fill="#000000" stroke="#000000">PgERF160</text><text x="502.6" y="401.95" fill="#000000" stroke="#000000">PgERF58</text><text x="502.6" y="409.48" fill="#000000" stroke="#000000">PgERF64</text><text x="502.6" y="417.02" fill="#000000" stroke="#000000">PgERF129</text><text x="502.6" y="424.55" fill="#000000" stroke="#000000">PgERF135</text><text x="502.6" y="432.09" fill="#000000" stroke="#000000">PgERF89</text><text x="502.6" y="439.62" fill="#000000" stroke="#000000">PgERF134</text><text x="502.6" y="447.16" fill="#000000" stroke="#000000">PgERF99</text><text x="502.6" y="454.69" fill="#000000" stroke="#000000">PgERF106</text><text x="502.6" y="462.23" fill="#000000" stroke="#000000">PgERF5</text><text x="502.6" y="469.76" fill="#000000" stroke="#000000">PgERF162</text><text x="502.6" y="477.3" fill="#000000" stroke="#000000">PgERF60</text><text x="502.6" y="484.83" fill="#000000" stroke="#000000">PgERF163</text><text x="502.6" y="492.34" fill="#000000" stroke="#000000">PgERF164</text><text x="502.6" y="499.83" fill="#000000" stroke="#000000">PgERF19</text><text x="502.6" y="507.31" fill="#000000" stroke="#000000">PgERF59</text><text x="502.6" y="514.79" fill="#000000" stroke="#000000">PgERF72</text><text x="502.6" y="522.28" fill="#000000" stroke="#000000">PgERF1</text><text x="502.6" y="529.76" fill="#000000" stroke="#000000">PgERF43</text><text x="502.6" y="537.25" fill="#000000" stroke="#000000">PgERF98</text><text x="502.6" y="544.73" fill="#000000" stroke="#000000">PgERF165</text><text x="502.6" y="552.21" fill="#000000" stroke="#000000">PgERF23</text><text x="502.6" y="559.7" fill="#000000" stroke="#000000">PgERF39</text><text x="502.6" y="567.18" fill="#000000" stroke="#000000">PgERF125</text><text x="502.6" y="574.67" fill="#000000" stroke="#000000">PgERF139</text><text x="502.6" y="582.15" fill="#c8384e" stroke="#c8384e">PgERF37</text><text x="502.6" y="589.63" fill="#000000" stroke="#000000">PgERF96</text><text x="502.6" y="597.12" fill="#000000" stroke="#000000">PgERF111</text><text x="502.6" y="604.6" fill="#000000" stroke="#000000">PgERF66</text><text x="502.6" y="612.09" fill="#000000" stroke="#000000">PgERF137</text><text x="502.6" y="619.57" fill="#c8384e" stroke="#c8384e">PgERF88</text><text x="502.6" y="627.06" fill="#000000" stroke="#000000">PgERF121</text><text x="502.6" y="634.54" fill="#000000" stroke="#000000">PgERF158</text><text x="502.6" y="642.02" fill="#000000" stroke="#000000">PgERF14</text><text x="502.6" y="649.51" fill="#000000" stroke="#000000">PgERF42</text><text x="502.6" y="656.99" fill="#c8384e" stroke="#c8384e">PgERF62</text><text x="502.6" y="664.48" fill="#000000" stroke="#000000">PgERF51</text><text x="502.6" y="671.96" fill="#000000" stroke="#000000">PgERF31</text><text x="502.6" y="679.44" fill="#000000" stroke="#000000">PgERF81</text><text x="502.6" y="686.93" fill="#000000" stroke="#000000">PgERF29</text><text x="502.6" y="694.41" fill="#000000" stroke="#000000">PgERF57</text><text x="502.6" y="701.9" fill="#000000" stroke="#000000">PgERF80</text><text x="502.6" y="709.38" fill="#000000" stroke="#000000">PgERF30</text><text x="502.6" y="716.86" fill="#000000" stroke="#000000">PgERF78</text><text x="502.6" y="724.35" fill="#000000" stroke="#000000">PgERF101</text><text x="502.6" y="731.83" fill="#000000" stroke="#000000">PgERF32</text><text x="502.6" y="739.32" fill="#000000" stroke="#000000">PgERF86</text><text x="502.6" y="746.8" fill="#000000" stroke="#000000">PgERF130</text><text x="502.6" y="754.28" fill="#000000" stroke="#000000">PgERF13</text><text x="502.6" y="761.77" fill="#000000" stroke="#000000">PgERF79</text><text x="502.6" y="769.25" fill="#000000" stroke="#000000">PgERF116</text><text x="502.6" y="776.74" fill="#c8384e" stroke="#c8384e">PgERF131</text><text x="502.6" y="784.22" fill="#000000" stroke="#000000">PgERF157</text><text x="502.6" y="791.7" fill="#000000" stroke="#000000">PgERF36</text><text x="502.6" y="799.19" fill="#000000" stroke="#000000">PgERF71</text><text x="502.6" y="806.67" fill="#000000" stroke="#000000">PgERF38</text><text x="502.6" y="814.16" fill="#000000" stroke="#000000">PgERF126</text><text x="502.6" y="821.64" fill="#000000" stroke="#000000">PgERF75</text><text x="502.6" y="829.12" fill="#000000" stroke="#000000">PgERF151</text><text x="502.6" y="836.61" fill="#000000" stroke="#000000">PgERF150</text><text x="502.6" y="844.09" fill="#c8384e" stroke="#c8384e">PgERF153</text><text x="502.6" y="851.58" fill="#000000" stroke="#000000">PgERF8</text><text x="502.6" y="859.06" fill="#000000" stroke="#000000">PgERF95</text><text x="502.6" y="866.54" fill="#c8384e" stroke="#c8384e">PgERF7</text><text x="502.6" y="874.03" fill="#000000" stroke="#000000">PgERF152</text><text x="502.6" y="881.51" fill="#000000" stroke="#000000">PgERF142</text><text x="502.6" y="889" fill="#000000" stroke="#000000">PgERF34</text><text x="502.6" y="896.48" fill="#000000" stroke="#000000">PgERF107</text><text x="502.6" y="903.97" fill="#000000" stroke="#000000">PgERF54</text><text x="502.6" y="911.45" fill="#000000" stroke="#000000">PgERF55</text><text x="502.6" y="918.93" fill="#000000" stroke="#000000">PgERF67</text><text x="502.6" y="926.42" fill="#000000" stroke="#000000">PgERF35</text><text x="502.6" y="933.9" fill="#000000" stroke="#000000">PgERF33</text><text x="502.6" y="941.39" fill="#000000" stroke="#000000">PgERF87</text><text x="502.6" y="948.87" fill="#000000" stroke="#000000">PgERF84</text><text x="502.6" y="956.35" fill="#000000" stroke="#000000">PgERF53</text><text x="502.6" y="963.84" fill="#000000" stroke="#000000">PgERF82</text><text x="502.6" y="971.32" fill="#000000" stroke="#000000">PgERF63</text><text x="502.6" y="978.81" fill="#000000" stroke="#000000">PgERF118</text><text x="502.6" y="986.29" fill="#000000" stroke="#000000">PgERF11</text><text x="502.6" y="993.77" fill="#c8384e" stroke="#c8384e">PgERF20</text><text x="502.6" y="1001.26" fill="#000000" stroke="#000000">PgERF113</text><text x="502.6" y="1008.72" fill="#000000" stroke="#000000">PgERF4</text><text x="502.6" y="1016.16" fill="#000000" stroke="#000000">PgERF56</text><text x="502.6" y="1023.59" fill="#000000" stroke="#000000">PgERF161</text><text x="502.6" y="1031.03" fill="#000000" stroke="#000000">PgERF47</text><text x="502.6" y="1038.47" fill="#c8384e" stroke="#c8384e">PgERF50</text><text x="502.6" y="1045.9" fill="#c8384e" stroke="#c8384e">PgERF104</text><text x="502.6" y="1053.34" fill="#000000" stroke="#000000">PgERF6</text><text x="502.6" y="1060.78" fill="#000000" stroke="#000000">PgERF2</text><text x="502.6" y="1068.22" fill="#000000" stroke="#000000">PgERF83</text><text x="502.6" y="1075.65" fill="#000000" stroke="#000000">PgERF124</text><text x="502.6" y="1083.09" fill="#000000" stroke="#000000">PgERF156</text><text x="502.6" y="1090.53" fill="#000000" stroke="#000000">PgERF40</text><text x="502.6" y="1097.96" fill="#000000" stroke="#000000">PgERF140</text><text x="502.6" y="1105.4" fill="#000000" stroke="#000000">PgERF120</text><text x="502.6" y="1112.84" fill="#000000" stroke="#000000">PgERF24</text><text x="502.6" y="1120.28" fill="#000000" stroke="#000000">PgERF103</text><text x="502.6" y="1127.71" fill="#c8384e" stroke="#c8384e">PgERF22</text><text x="502.6" y="1135.15" fill="#000000" stroke="#000000">PgERF74</text><text x="502.6" y="1142.59" fill="#000000" stroke="#000000">PgERF123</text><text x="502.6" y="1150.02" fill="#000000" stroke="#000000">PgERF143</text><text x="502.6" y="1157.46" fill="#000000" stroke="#000000">PgERF10</text><text x="502.6" y="1164.9" fill="#000000" stroke="#000000">PgERF115</text><text x="502.6" y="1172.34" fill="#000000" stroke="#000000">PgERF45</text><text x="502.6" y="1179.77" fill="#000000" stroke="#000000">PgERF167</text><text x="502.6" y="1187.21" fill="#000000" stroke="#000000">PgERF17</text><text x="502.6" y="1194.65" fill="#000000" stroke="#000000">PgERF41</text><text x="502.6" y="1202.08" fill="#000000" stroke="#000000">PgERF117</text><text x="502.6" y="1209.52" fill="#000000" stroke="#000000">PgERF49</text><text x="502.6" y="1216.96" fill="#000000" stroke="#000000">PgERF108</text><text x="502.6" y="1224.4" fill="#000000" stroke="#000000">PgERF21</text><text x="502.6" y="1231.83" fill="#000000" stroke="#000000">PgERF133</text><text x="502.6" y="1239.27" fill="#000000" stroke="#000000">PgERF18</text><text x="502.6" y="1246.71" fill="#000000" stroke="#000000">PgERF136</text><text x="502.6" y="1254.14" fill="#000000" stroke="#000000">PgERF132</text><text x="502.6" y="1261.58" fill="#000000" stroke="#000000">PgERF68</text></g><g font-family="Liberation Sans, Arial, sans-serif" font-size="8.8" fill="#2a2a2a" stroke="#2a2a2a" stroke-width="0.25"><text transform="translate(169.25 1273.2) rotate(-45)" text-anchor="end">FW_F</text><text transform="translate(182.95 1273.2) rotate(-45)" text-anchor="end">FW_L</text><text transform="translate(196.65 1273.2) rotate(-45)" text-anchor="end">FW_S</text><text transform="translate(210.35 1273.2) rotate(-45)" text-anchor="end">HAI24_G</text><text transform="translate(224.05 1273.2) rotate(-45)" text-anchor="end">HAI24_R</text><text transform="translate(237.75 1273.2) rotate(-45)" text-anchor="end">HAI36_G</text><text transform="translate(251.45 1273.2) rotate(-45)" text-anchor="end">HAI36_R</text><text transform="translate(265.15 1273.2) rotate(-45)" text-anchor="end">HAI48_G</text><text transform="translate(278.85 1273.2) rotate(-45)" text-anchor="end">HAI48_R</text><text transform="translate(292.55 1273.2) rotate(-45)" text-anchor="end">HI_L</text><text transform="translate(306.25 1273.2) rotate(-45)" text-anchor="end">HI_SP</text><text transform="translate(319.95 1273.2) rotate(-45)" text-anchor="end">HI_ST</text><text transform="translate(333.65 1273.2) rotate(-45)" text-anchor="end">seed</text><text transform="translate(347.35 1273.2) rotate(-45)" text-anchor="end">SI_L</text><text transform="translate(361.05 1273.2) rotate(-45)" text-anchor="end">SI_S</text><text transform="translate(374.75 1273.2) rotate(-45)" text-anchor="end">SI_SD</text><text transform="translate(388.45 1273.2) rotate(-45)" text-anchor="end">T3LF_L</text><text transform="translate(402.15 1273.2) rotate(-45)" text-anchor="end">T3LF_R</text><text transform="translate(415.85 1273.2) rotate(-45)" text-anchor="end">T5LF_L</text><text transform="translate(429.55 1273.2) rotate(-45)" text-anchor="end">T5LF_R</text><text transform="translate(443.25 1273.2) rotate(-45)" text-anchor="end">TL_L</text><text transform="translate(456.95 1273.2) rotate(-45)" text-anchor="end">TL_M</text><text transform="translate(470.65 1273.2) rotate(-45)" text-anchor="end">TL_R</text><text transform="translate(484.35 1273.2) rotate(-45)" text-anchor="end">TL_S</text><text transform="translate(498.05 1273.2) rotate(-45)" text-anchor="end">HAI0</text></g><defs><linearGradient id="cbg" x1="0" y1="0" x2="0" y2="1"><stop offset="0" stop-color="#c8101a"/><stop offset="0.11" stop-color="#e4383e"/><stop offset="0.22" stop-color="#f0767a"/><stop offset="0.33" stop-color="#f6b4b8"/><stop offset="0.44" stop-color="#faf7fa"/><stop offset="0.56" stop-color="#dae1f0"/><stop offset="0.67" stop-color="#aabede"/><stop offset="0.78" stop-color="#7091c4"/><stop offset="0.89" stop-color="#3c64a8"/><stop offset="1" stop-color="#163888"/></linearGradient></defs><rect x="39.5" y="25.5" width="10.0" height="79.0" fill="url(#cbg)" stroke="#555" stroke-width="0.5"/><path stroke="#555" stroke-width="0.8" d="M49.5 25.5V104.5M49.5 25.5H51M49.5 34.28H51M49.5 43.06H51M49.5 51.83H51M49.5 60.61H51M49.5 69.39H51M49.5 78.17H51M49.5 86.94H51M49.5 95.72H51M49.5 104.5H51"/><g font-family="Liberation Sans, Arial, sans-serif" font-size="6.7" fill="#1a1a1a" stroke="#1a1a1a" stroke-width="0.26" text-anchor="middle"><text x="58.6" y="27.9">5.00</text><text x="58.6" y="36.68">4.00</text><text x="58.6" y="45.46">3.00</text><text x="58.6" y="54.23">2.00</text><text x="58.6" y="63.01">1.00</text><text x="58.6" y="71.79">0.00</text><text x="58.6" y="80.57">-1.00</text><text x="58.6" y="89.34">-2.00</text><text x="58.6" y="98.12">-3.00</text><text x="58.6" y="106.9">-4.00</text></g><g font-family="Liberation Sans, Arial, sans-serif" font-weight="bold" font-size="19.5" stroke-width="0.35"><text x="89.8" y="239" fill="#111111" stroke="#111111" text-anchor="end" textLength="66.9" lengthAdjust="spacingAndGlyphs">ERF (83)</text><text x="90.5" y="793.6" fill="#cc1020" stroke="#cc1020" text-anchor="end" textLength="82.2" lengthAdjust="spacingAndGlyphs">DREB (51)</text><text x="90.5" y="1098.5" fill="#2020b0" stroke="#2020b0" text-anchor="end" textLength="67.6" lengthAdjust="spacingAndGlyphs">AP2 (27)</text><text x="90.7" y="1231.7" fill="#c89a1c" stroke="#c89a1c" text-anchor="end" textLength="60.7" lengthAdjust="spacingAndGlyphs">RAV (5)</text><text x="90.7" y="1278.8" fill="#44a032" stroke="#44a032" text-anchor="end" textLength="82" lengthAdjust="spacingAndGlyphs">Soloist (1)</text></g><path d="M102.3 1268L155 1258.6" stroke="#333" stroke-width="1.3" fill="none"/></g></svg>
</body></html>
